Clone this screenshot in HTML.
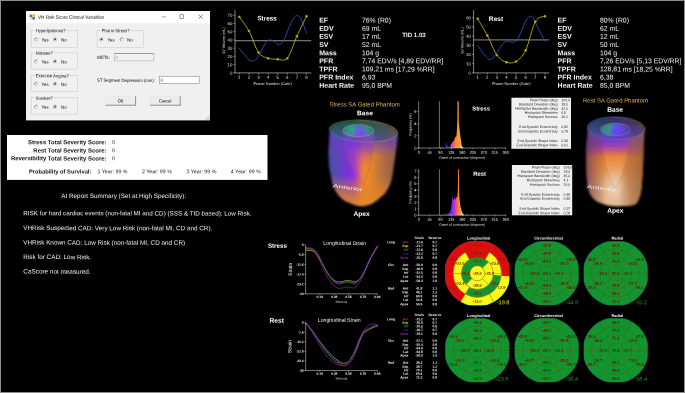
<!DOCTYPE html>
<html lang="en"><head><meta charset="utf-8"><title>VH Risk Score Clinical Variables</title>
<style>html,body{margin:0;padding:0;background:#000;overflow:hidden}svg{display:block;font-family:"Liberation Sans",sans-serif}text{white-space:pre;text-rendering:geometricPrecision}</style></head>
<body>
<svg width="685" height="393" viewBox="0 0 685 393">
<defs>
<filter id="hb" x="-10%" y="-10%" width="120%" height="120%"><feGaussianBlur stdDeviation="0.8"/></filter>
<filter id="hb1" x="-10%" y="-10%" width="120%" height="120%"><feGaussianBlur stdDeviation="0.45"/></filter>
<linearGradient id="sH" gradientUnits="userSpaceOnUse" x1="328" y1="0" x2="398" y2="0"><stop offset="0" stop-color="#4a48a0"/><stop offset="0.12" stop-color="#5a4ab4"/><stop offset="0.26" stop-color="#7434d0"/><stop offset="0.36" stop-color="#8a30dc"/><stop offset="0.42" stop-color="#b848a8"/><stop offset="0.48" stop-color="#ea8430"/><stop offset="0.58" stop-color="#ee8a28"/><stop offset="0.68" stop-color="#d07c36"/><stop offset="0.8" stop-color="#ae6c46"/><stop offset="1" stop-color="#8a5a4a"/></linearGradient>
<linearGradient id="sTop" gradientUnits="userSpaceOnUse" x1="0" y1="138" x2="0" y2="156"><stop offset="0" stop-color="#5c44c0" stop-opacity="0.85"/><stop offset="0.5" stop-color="#6a3cc4" stop-opacity="0.45"/><stop offset="1" stop-color="#7a38c0" stop-opacity="0.0"/></linearGradient>
<linearGradient id="sBot" gradientUnits="userSpaceOnUse" x1="0" y1="176" x2="0" y2="204"><stop offset="0" stop-color="#e08428" stop-opacity="0.0"/><stop offset="0.5" stop-color="#e08428" stop-opacity="0.6"/><stop offset="1" stop-color="#e08a2a" stop-opacity="0.95"/></linearGradient>
<linearGradient id="sCup" gradientUnits="userSpaceOnUse" x1="329" y1="0" x2="398" y2="0"><stop offset="0" stop-color="#24585c"/><stop offset="0.3" stop-color="#1f5650"/><stop offset="0.6" stop-color="#2c5a50"/><stop offset="0.85" stop-color="#4a5448"/><stop offset="1" stop-color="#6a5a40"/></linearGradient>
<linearGradient id="sFront" gradientUnits="userSpaceOnUse" x1="0" y1="126" x2="0" y2="143"><stop offset="0" stop-color="#5a50b0" stop-opacity="0.0"/><stop offset="0.45" stop-color="#5a4cb4" stop-opacity="0.35"/><stop offset="1" stop-color="#5e48b8" stop-opacity="0.9"/></linearGradient>
<linearGradient id="sCylH" gradientUnits="userSpaceOnUse" x1="343" y1="0" x2="374" y2="0"><stop offset="0" stop-color="#6a40d0"/><stop offset="0.25" stop-color="#8a30e0"/><stop offset="0.5" stop-color="#c850a0"/><stop offset="0.68" stop-color="#f08a28"/><stop offset="1" stop-color="#d87a30"/></linearGradient>
<linearGradient id="sCylV" gradientUnits="userSpaceOnUse" x1="0" y1="130" x2="0" y2="185"><stop offset="0" stop-color="#5a48d0" stop-opacity="0.9"/><stop offset="0.3" stop-color="#7a38d8" stop-opacity="0.7"/><stop offset="0.55" stop-color="#c05090" stop-opacity="0.25"/><stop offset="0.75" stop-color="#f08a28" stop-opacity="0.0"/><stop offset="1" stop-color="#f09030" stop-opacity="0.0"/></linearGradient>
<linearGradient id="sCylTop" gradientUnits="userSpaceOnUse" x1="343" y1="0" x2="374" y2="0"><stop offset="0" stop-color="#2a8a80"/><stop offset="0.3" stop-color="#34a090"/><stop offset="0.55" stop-color="#5a60e0"/><stop offset="0.75" stop-color="#3a9088"/><stop offset="1" stop-color="#2a7a70"/></linearGradient>
<linearGradient id="sRimS" gradientUnits="userSpaceOnUse" x1="329" y1="0" x2="398" y2="0"><stop offset="0" stop-color="#4a8a90"/><stop offset="0.4" stop-color="#7a8a60"/><stop offset="0.7" stop-color="#a88a58"/><stop offset="1" stop-color="#d8924c"/></linearGradient>
<linearGradient id="rBody" gradientUnits="userSpaceOnUse" x1="0" y1="136" x2="0" y2="206"><stop offset="0" stop-color="#6444c0"/><stop offset="0.12" stop-color="#8038bc"/><stop offset="0.22" stop-color="#b85088"/><stop offset="0.31" stop-color="#e6823a"/><stop offset="0.48" stop-color="#e48e46"/><stop offset="0.68" stop-color="#dca470"/><stop offset="0.85" stop-color="#deb088"/><stop offset="1" stop-color="#e2ba94"/></linearGradient>
<linearGradient id="rSide" gradientUnits="userSpaceOnUse" x1="586" y1="0" x2="646" y2="0"><stop offset="0" stop-color="#5a3060" stop-opacity="0.7"/><stop offset="0.14" stop-color="#7a4048" stop-opacity="0.45"/><stop offset="0.34" stop-color="#804030" stop-opacity="0.0"/><stop offset="0.55" stop-color="#905030" stop-opacity="0.0"/><stop offset="0.78" stop-color="#a06438" stop-opacity="0.6"/><stop offset="1" stop-color="#8e5a36" stop-opacity="0.85"/></linearGradient>
<radialGradient id="rCore" gradientUnits="userSpaceOnUse" cx="614" cy="190" r="24" gradientTransform="translate(614 190) scale(0.8 1.0) translate(-614 -190)"><stop offset="0" stop-color="#efd4b8" stop-opacity="0.95"/><stop offset="0.5" stop-color="#e8c29c" stop-opacity="0.6"/><stop offset="1" stop-color="#e0b088" stop-opacity="0"/></radialGradient>
<linearGradient id="rCup" gradientUnits="userSpaceOnUse" x1="587" y1="0" x2="646" y2="0"><stop offset="0" stop-color="#2a4a70"/><stop offset="0.3" stop-color="#2c3868"/><stop offset="0.6" stop-color="#3a3070"/><stop offset="0.85" stop-color="#4a3860"/><stop offset="1" stop-color="#5a4850"/></linearGradient>
<linearGradient id="rFront" gradientUnits="userSpaceOnUse" x1="0" y1="123" x2="0" y2="140"><stop offset="0" stop-color="#5a50b0" stop-opacity="0.0"/><stop offset="0.45" stop-color="#5a4cb4" stop-opacity="0.35"/><stop offset="1" stop-color="#5e48b8" stop-opacity="0.9"/></linearGradient>
<linearGradient id="rCyl" gradientUnits="userSpaceOnUse" x1="0" y1="126" x2="0" y2="189"><stop offset="0" stop-color="#4a50d0"/><stop offset="0.2" stop-color="#6a3cdc"/><stop offset="0.33" stop-color="#b048b0"/><stop offset="0.45" stop-color="#ee8434"/><stop offset="0.6" stop-color="#eea060"/><stop offset="0.8" stop-color="#e8c098"/><stop offset="1" stop-color="#f0d8c0"/></linearGradient>
<linearGradient id="rCylTop" gradientUnits="userSpaceOnUse" x1="601" y1="0" x2="630" y2="0"><stop offset="0" stop-color="#2a8a80"/><stop offset="0.3" stop-color="#34988c"/><stop offset="0.55" stop-color="#5a50f0"/><stop offset="0.8" stop-color="#5a48c0"/><stop offset="1" stop-color="#4a4090"/></linearGradient>
<linearGradient id="rRimS" gradientUnits="userSpaceOnUse" x1="587" y1="0" x2="646" y2="0"><stop offset="0" stop-color="#4a78a8"/><stop offset="0.4" stop-color="#6a70a0"/><stop offset="0.7" stop-color="#a07a70"/><stop offset="1" stop-color="#c8844c"/></linearGradient>
<linearGradient id="hgS" gradientUnits="userSpaceOnUse" x1="433.2" y1="0" x2="464.6" y2="0"><stop offset="0.000" stop-color="#10a090"/><stop offset="0.192" stop-color="#1080a0"/><stop offset="0.308" stop-color="#3040e0"/><stop offset="0.408" stop-color="#7a22e6"/><stop offset="0.538" stop-color="#b030d8"/><stop offset="0.631" stop-color="#e04aa0"/><stop offset="0.692" stop-color="#f87848"/><stop offset="0.738" stop-color="#ff8c28"/><stop offset="0.862" stop-color="#ffa030"/><stop offset="0.923" stop-color="#ffd8a8"/><stop offset="0.969" stop-color="#ffffff"/></linearGradient>
<linearGradient id="hgR" gradientUnits="userSpaceOnUse" x1="433.2" y1="0" x2="464.6" y2="0"><stop offset="0.000" stop-color="#10a090"/><stop offset="0.269" stop-color="#1080a0"/><stop offset="0.400" stop-color="#3040e0"/><stop offset="0.500" stop-color="#6a28e8"/><stop offset="0.615" stop-color="#8a2ae6"/><stop offset="0.692" stop-color="#c838c8"/><stop offset="0.746" stop-color="#ee5a70"/><stop offset="0.792" stop-color="#ff7a30"/><stop offset="0.862" stop-color="#ffa030"/><stop offset="0.938" stop-color="#ffd8a8"/><stop offset="1.000" stop-color="#ffffff"/></linearGradient>
<clipPath id="bc477_273"><rect x="445.25" y="241.25" width="64.1" height="64.1"/></clipPath>
<clipPath id="bc546_273"><rect x="514.65" y="241.25" width="64.1" height="64.1"/></clipPath>
<clipPath id="bc615_273"><rect x="583.65" y="241.25" width="64.1" height="64.1"/></clipPath>
<clipPath id="bc477_350"><rect x="445.25" y="318.25" width="64.1" height="64.1"/></clipPath>
<clipPath id="bc546_350"><rect x="514.65" y="318.25" width="64.1" height="64.1"/></clipPath>
<clipPath id="bc615_350"><rect x="583.65" y="318.25" width="64.1" height="64.1"/></clipPath>
</defs>
<g>
<rect x="0.00" y="0.00" width="685.00" height="393.00" fill="#000"/>
<rect x="0.50" y="0.50" width="684.00" height="392.00" fill="none" stroke="#8c8c8c" stroke-width="1"/>
<g id="dialog">
<rect x="26.00" y="11.00" width="184.00" height="109.40" fill="#f0f0f0"/>
<rect x="26.00" y="11.00" width="184.00" height="12.20" fill="#ffffff"/>
<rect x="29.60" y="14.60" width="2.60" height="2.40" fill="#d8402c"/>
<rect x="32.30" y="14.20" width="2.80" height="2.60" fill="#f2c21a"/>
<rect x="29.80" y="17.10" width="2.40" height="2.30" fill="#c8c8d0"/>
<rect x="32.30" y="17.00" width="2.60" height="2.50" fill="#2f78d0"/>
<text x="38.00" y="18.66" transform="rotate(0.06 38.0 18.7)" font-size="4.9" textLength="66.00" lengthAdjust="spacingAndGlyphs" fill="#000">VH Risk Score Clinical Variables</text>
<line x1="161.60" y1="16.90" x2="166.00" y2="16.90" stroke="#444" stroke-width="0.5"/>
<rect x="180.00" y="14.80" width="3.60" height="3.60" fill="none" stroke="#333" stroke-width="0.5"/>
<line x1="198.60" y1="14.70" x2="202.60" y2="18.70" stroke="#222" stroke-width="0.55"/>
<line x1="202.60" y1="14.70" x2="198.60" y2="18.70" stroke="#222" stroke-width="0.55"/>
<rect x="31.20" y="30.30" width="46.40" height="17.00" fill="none" stroke="#c4c4c4" stroke-width="0.5"/>
<rect x="34.90" y="29.30" width="31.40" height="2.00" fill="#f0f0f0"/>
<text x="35.70" y="32.26" transform="rotate(0.06 35.7 32.3)" font-size="4.6" textLength="29.80" lengthAdjust="spacingAndGlyphs" fill="#111">Hyperlipidemia?</text>
<circle cx="36.20" cy="39.60" r="1.60" fill="#fff" stroke="#a8a8a8" stroke-width="0.45"/>
<path d="M35.07,40.73 A1.6,1.6 0 0 1 37.33,38.47" fill="none" stroke="#4a4a4a" stroke-width="0.5"/>
<circle cx="55.20" cy="39.60" r="1.60" fill="#fff" stroke="#a8a8a8" stroke-width="0.45"/>
<path d="M54.07,40.73 A1.6,1.6 0 0 1 56.33,38.47" fill="none" stroke="#4a4a4a" stroke-width="0.5"/>
<circle cx="55.20" cy="39.60" r="0.75" fill="#111"/>
<text x="41.60" y="41.46" transform="rotate(0.06 41.6 41.5)" font-size="4.6" textLength="6.90" lengthAdjust="spacingAndGlyphs" fill="#111">Yes</text>
<text x="60.90" y="41.46" transform="rotate(0.06 60.9 41.5)" font-size="4.6" textLength="5.80" lengthAdjust="spacingAndGlyphs" fill="#111">No</text>
<rect x="31.20" y="52.90" width="46.40" height="16.20" fill="none" stroke="#c4c4c4" stroke-width="0.5"/>
<rect x="34.90" y="51.90" width="18.40" height="2.00" fill="#f0f0f0"/>
<text x="35.70" y="54.76" transform="rotate(0.06 35.7 54.8)" font-size="4.6" textLength="16.80" lengthAdjust="spacingAndGlyphs" fill="#111">Nitrates?</text>
<circle cx="36.20" cy="61.60" r="1.60" fill="#fff" stroke="#a8a8a8" stroke-width="0.45"/>
<path d="M35.07,62.73 A1.6,1.6 0 0 1 37.33,60.47" fill="none" stroke="#4a4a4a" stroke-width="0.5"/>
<circle cx="55.20" cy="61.60" r="1.60" fill="#fff" stroke="#a8a8a8" stroke-width="0.45"/>
<path d="M54.07,62.73 A1.6,1.6 0 0 1 56.33,60.47" fill="none" stroke="#4a4a4a" stroke-width="0.5"/>
<circle cx="55.20" cy="61.60" r="0.75" fill="#111"/>
<text x="41.60" y="63.46" transform="rotate(0.06 41.6 63.5)" font-size="4.6" textLength="6.90" lengthAdjust="spacingAndGlyphs" fill="#111">Yes</text>
<text x="60.90" y="63.46" transform="rotate(0.06 60.9 63.5)" font-size="4.6" textLength="5.80" lengthAdjust="spacingAndGlyphs" fill="#111">No</text>
<rect x="31.20" y="75.30" width="46.40" height="16.10" fill="none" stroke="#c4c4c4" stroke-width="0.5"/>
<rect x="34.90" y="74.30" width="34.70" height="2.00" fill="#f0f0f0"/>
<text x="35.70" y="77.36" transform="rotate(0.06 35.7 77.4)" font-size="4.6" textLength="33.10" lengthAdjust="spacingAndGlyphs" fill="#111">Exercise Angina?</text>
<circle cx="36.20" cy="84.10" r="1.60" fill="#fff" stroke="#a8a8a8" stroke-width="0.45"/>
<path d="M35.07,85.23 A1.6,1.6 0 0 1 37.33,82.97" fill="none" stroke="#4a4a4a" stroke-width="0.5"/>
<circle cx="55.20" cy="84.10" r="1.60" fill="#fff" stroke="#a8a8a8" stroke-width="0.45"/>
<path d="M54.07,85.23 A1.6,1.6 0 0 1 56.33,82.97" fill="none" stroke="#4a4a4a" stroke-width="0.5"/>
<circle cx="55.20" cy="84.10" r="0.75" fill="#111"/>
<text x="41.60" y="85.96" transform="rotate(0.06 41.6 86.0)" font-size="4.6" textLength="6.90" lengthAdjust="spacingAndGlyphs" fill="#111">Yes</text>
<text x="60.90" y="85.96" transform="rotate(0.06 60.9 86.0)" font-size="4.6" textLength="5.80" lengthAdjust="spacingAndGlyphs" fill="#111">No</text>
<rect x="31.20" y="97.80" width="46.40" height="16.40" fill="none" stroke="#c4c4c4" stroke-width="0.5"/>
<rect x="34.90" y="96.80" width="18.50" height="2.00" fill="#f0f0f0"/>
<text x="35.70" y="99.66" transform="rotate(0.06 35.7 99.7)" font-size="4.6" textLength="16.90" lengthAdjust="spacingAndGlyphs" fill="#111">Smoker?</text>
<circle cx="36.20" cy="106.90" r="1.60" fill="#fff" stroke="#a8a8a8" stroke-width="0.45"/>
<path d="M35.07,108.03 A1.6,1.6 0 0 1 37.33,105.77" fill="none" stroke="#4a4a4a" stroke-width="0.5"/>
<circle cx="55.20" cy="106.90" r="1.60" fill="#fff" stroke="#a8a8a8" stroke-width="0.45"/>
<path d="M54.07,108.03 A1.6,1.6 0 0 1 56.33,105.77" fill="none" stroke="#4a4a4a" stroke-width="0.5"/>
<circle cx="55.20" cy="106.90" r="0.75" fill="#111"/>
<text x="41.60" y="108.76" transform="rotate(0.06 41.6 108.8)" font-size="4.6" textLength="6.90" lengthAdjust="spacingAndGlyphs" fill="#111">Yes</text>
<text x="60.90" y="108.76" transform="rotate(0.06 60.9 108.8)" font-size="4.6" textLength="5.80" lengthAdjust="spacingAndGlyphs" fill="#111">No</text>
<rect x="97.10" y="30.30" width="46.60" height="17.00" fill="none" stroke="#c4c4c4" stroke-width="0.5"/>
<rect x="101.00" y="29.30" width="29.30" height="2.00" fill="#f0f0f0"/>
<text x="101.80" y="32.26" transform="rotate(0.06 101.8 32.3)" font-size="4.6" textLength="27.70" lengthAdjust="spacingAndGlyphs" fill="#111">Pharm Stress?</text>
<circle cx="101.60" cy="39.60" r="1.60" fill="#fff" stroke="#a8a8a8" stroke-width="0.45"/>
<path d="M100.47,40.73 A1.6,1.6 0 0 1 102.73,38.47" fill="none" stroke="#4a4a4a" stroke-width="0.5"/>
<circle cx="101.60" cy="39.60" r="0.75" fill="#111"/>
<circle cx="121.80" cy="39.60" r="1.60" fill="#fff" stroke="#a8a8a8" stroke-width="0.45"/>
<path d="M120.67,40.73 A1.6,1.6 0 0 1 122.93,38.47" fill="none" stroke="#4a4a4a" stroke-width="0.5"/>
<text x="107.60" y="41.46" transform="rotate(0.06 107.6 41.5)" font-size="4.6" textLength="6.90" lengthAdjust="spacingAndGlyphs" fill="#111">Yes</text>
<text x="127.10" y="41.46" transform="rotate(0.06 127.1 41.5)" font-size="4.6" textLength="5.80" lengthAdjust="spacingAndGlyphs" fill="#111">No</text>
<text x="97.10" y="58.96" transform="rotate(0.06 97.1 59.0)" font-size="4.6" textLength="12.80" lengthAdjust="spacingAndGlyphs" fill="#111">METs:</text>
<rect x="114.30" y="53.50" width="39.60" height="7.40" fill="#f0f0f0" stroke="#a6a6a6" stroke-width="0.5"/>
<line x1="114.30" y1="53.50" x2="153.90" y2="53.50" stroke="#808080" stroke-width="0.6"/>
<text x="115.60" y="58.95" transform="rotate(0.06 115.6 58.9)" font-size="4.3" fill="#8a8a8a">0</text>
<text x="97.10" y="81.86" transform="rotate(0.06 97.1 81.9)" font-size="4.6" textLength="57.80" lengthAdjust="spacingAndGlyphs" fill="#111">ST Segment Depression (mm):</text>
<rect x="159.30" y="76.40" width="39.90" height="6.90" fill="#ffffff" stroke="#7a7a7a" stroke-width="0.5"/>
<text x="160.60" y="81.55" transform="rotate(0.06 160.6 81.5)" font-size="4.3" fill="#222">0</text>
<rect x="105.70" y="96.30" width="29.90" height="8.90" fill="#ececec" stroke="#e0e0e0" stroke-width="0.4"/>
<line x1="105.70" y1="105.20" x2="135.60" y2="105.20" stroke="#6a6a6a" stroke-width="0.7"/>
<line x1="135.60" y1="96.30" x2="135.60" y2="105.50" stroke="#6a6a6a" stroke-width="0.7"/>
<text x="120.65" y="102.51" transform="rotate(0.06 120.7 102.5)" font-size="4.6" text-anchor="middle" textLength="5.98" lengthAdjust="spacingAndGlyphs" fill="#111">OK</text>
<rect x="150.00" y="96.30" width="30.20" height="8.90" fill="#ececec" stroke="#e0e0e0" stroke-width="0.4"/>
<line x1="150.00" y1="105.20" x2="180.20" y2="105.20" stroke="#6a6a6a" stroke-width="0.7"/>
<line x1="180.20" y1="96.30" x2="180.20" y2="105.50" stroke="#6a6a6a" stroke-width="0.7"/>
<text x="165.10" y="102.51" transform="rotate(0.06 165.1 102.5)" font-size="4.6" text-anchor="middle" textLength="12.89" lengthAdjust="spacingAndGlyphs" fill="#111">Cancel</text>
<line x1="208.20" y1="119.90" x2="209.60" y2="118.50" stroke="#a4a4a4" stroke-width="0.55"/>
<line x1="206.70" y1="119.90" x2="209.60" y2="117.00" stroke="#a4a4a4" stroke-width="0.55"/>
<line x1="205.20" y1="119.90" x2="209.60" y2="115.50" stroke="#a4a4a4" stroke-width="0.55"/>
</g>
<g id="scores">
<rect x="7.00" y="135.00" width="260.50" height="44.90" fill="#ffffff"/>
<text x="106.50" y="144.34" transform="rotate(0.06 106.5 144.3)" font-size="5.94" text-anchor="end" font-weight="bold" fill="#111">Stress Total Severity Score:</text>
<text x="106.50" y="152.54" transform="rotate(0.06 106.5 152.5)" font-size="5.95" text-anchor="end" font-weight="bold" fill="#111">Rest Total Severity Score:</text>
<text x="106.50" y="160.44" transform="rotate(0.06 106.5 160.4)" font-size="5.95" text-anchor="end" font-weight="bold" fill="#111">Reversibility Total Severity Score:</text>
<text x="112.00" y="144.11" transform="rotate(0.06 112.0 144.1)" font-size="5.3" fill="#222">0</text>
<text x="112.00" y="152.31" transform="rotate(0.06 112.0 152.3)" font-size="5.3" fill="#222">0</text>
<text x="112.00" y="160.21" transform="rotate(0.06 112.0 160.2)" font-size="5.3" fill="#222">0</text>
<text x="28.90" y="173.47" transform="rotate(0.06 28.9 173.5)" font-size="5.74" font-weight="bold" fill="#111">Probability of Survival:</text>
<text x="97.50" y="173.31" transform="rotate(0.06 97.5 173.3)" font-size="5.3" textLength="30.00" lengthAdjust="spacingAndGlyphs" fill="#222">1 Year: 99 %</text>
<text x="141.90" y="173.31" transform="rotate(0.06 141.9 173.3)" font-size="5.3" textLength="30.00" lengthAdjust="spacingAndGlyphs" fill="#222">2 Year: 99 %</text>
<text x="186.40" y="173.31" transform="rotate(0.06 186.4 173.3)" font-size="5.3" textLength="30.00" lengthAdjust="spacingAndGlyphs" fill="#222">3 Year: 99 %</text>
<text x="230.80" y="173.31" transform="rotate(0.06 230.8 173.3)" font-size="5.3" textLength="30.00" lengthAdjust="spacingAndGlyphs" fill="#222">4 Year: 99 %</text>
</g>
<g id="report">
<text x="61.30" y="197.88" transform="rotate(0.06 61.3 197.9)" font-size="6.33" fill="#ececec">AI Report Summary (Set at High Specificity):</text>
<text x="23.30" y="215.26" transform="rotate(0.06 23.3 215.3)" font-size="6.29" fill="#ececec">RISK for hard cardiac events (non-fatal MI and CD) (SSS &amp; TID based): Low Risk.</text>
<text x="23.30" y="230.09" transform="rotate(0.06 23.3 230.1)" font-size="6.35" fill="#ececec">VHRisk Suspected CAD: Very Low Risk (non-fatal MI, CD and CR).</text>
<text x="23.30" y="244.58" transform="rotate(0.06 23.3 244.6)" font-size="6.34" fill="#ececec">VHRisk Known CAD: Low Risk (non-fatal MI, CD and CR)</text>
<text x="23.30" y="259.09" transform="rotate(0.06 23.3 259.1)" font-size="6.36" fill="#ececec">Risk for CAD: Low Risk.</text>
<text x="23.30" y="273.60" transform="rotate(0.06 23.3 273.6)" font-size="6.38" fill="#ececec">CaScore not measured.</text>
</g>
<g id="stress-lv">
<line x1="235.00" y1="40.60" x2="311.30" y2="40.60" stroke="#727272" stroke-width="1.15"/>
<path d="M239.30,48.30 C240.12,49.30 242.58,52.37 244.20,54.30 C245.82,56.23 247.60,58.77 249.00,59.90 C250.40,61.03 251.40,61.22 252.60,61.10 C253.80,60.98 254.78,60.85 256.20,59.20 C257.62,57.55 259.48,54.02 261.10,51.20 C262.72,48.38 264.50,44.18 265.90,42.30 C267.30,40.42 268.10,40.03 269.50,39.90 C270.90,39.77 272.68,40.75 274.30,41.50 C275.92,42.25 277.58,44.67 279.20,44.40 C280.82,44.13 282.40,42.67 284.00,39.90 C285.60,37.13 287.18,31.43 288.80,27.80 C290.42,24.17 292.28,20.12 293.70,18.10 C295.12,16.08 296.10,15.58 297.30,15.70 C298.50,15.82 299.37,15.90 300.90,18.80 C302.43,21.70 305.57,30.72 306.50,33.10" fill="none" stroke="#2b4fb8" stroke-width="0.9" stroke-linecap="round" stroke-linejoin="round"/>
<path d="M239.30,16.90 C240.90,19.23 245.70,24.98 248.90,30.90 C252.10,36.82 255.30,47.85 258.50,52.40 C261.70,56.95 264.90,57.07 268.10,58.20 C271.30,59.33 274.50,59.20 277.70,59.20 C280.90,59.20 284.10,62.03 287.30,58.20 C290.50,54.37 293.70,43.20 296.90,36.20 C300.10,29.20 304.90,19.53 306.50,16.20" fill="none" stroke="#bfb91a" stroke-width="0.85" stroke-linecap="round" stroke-linejoin="round"/>
<circle cx="239.30" cy="16.90" r="1.20" fill="#cfc820" stroke="#4a4606" stroke-width="0.4"/>
<circle cx="248.90" cy="30.90" r="1.20" fill="#cfc820" stroke="#4a4606" stroke-width="0.4"/>
<circle cx="258.50" cy="52.40" r="1.20" fill="#cfc820" stroke="#4a4606" stroke-width="0.4"/>
<circle cx="268.10" cy="58.20" r="1.20" fill="#cfc820" stroke="#4a4606" stroke-width="0.4"/>
<circle cx="277.70" cy="59.20" r="1.20" fill="#cfc820" stroke="#4a4606" stroke-width="0.4"/>
<circle cx="287.30" cy="58.20" r="1.20" fill="#cfc820" stroke="#4a4606" stroke-width="0.4"/>
<circle cx="296.90" cy="36.20" r="1.20" fill="#cfc820" stroke="#4a4606" stroke-width="0.4"/>
<circle cx="306.50" cy="16.20" r="1.20" fill="#cfc820" stroke="#4a4606" stroke-width="0.4"/>
<line x1="235.00" y1="10.00" x2="235.00" y2="73.20" stroke="#d8d8d8" stroke-width="0.6"/>
<line x1="234.70" y1="72.90" x2="311.30" y2="72.90" stroke="#d8d8d8" stroke-width="0.6"/>
<line x1="233.40" y1="72.90" x2="235.00" y2="72.90" stroke="#d8d8d8" stroke-width="0.5"/>
<text x="232.40" y="74.45" transform="rotate(0.06 232.4 74.4)" font-size="4.3" text-anchor="end" fill="#e0e0e0">0</text>
<line x1="233.40" y1="64.65" x2="235.00" y2="64.65" stroke="#d8d8d8" stroke-width="0.5"/>
<text x="232.40" y="66.20" transform="rotate(0.06 232.4 66.2)" font-size="4.3" text-anchor="end" fill="#e0e0e0">10</text>
<line x1="233.40" y1="56.40" x2="235.00" y2="56.40" stroke="#d8d8d8" stroke-width="0.5"/>
<text x="232.40" y="57.95" transform="rotate(0.06 232.4 57.9)" font-size="4.3" text-anchor="end" fill="#e0e0e0">20</text>
<line x1="233.40" y1="48.15" x2="235.00" y2="48.15" stroke="#d8d8d8" stroke-width="0.5"/>
<text x="232.40" y="49.70" transform="rotate(0.06 232.4 49.7)" font-size="4.3" text-anchor="end" fill="#e0e0e0">30</text>
<line x1="233.40" y1="39.90" x2="235.00" y2="39.90" stroke="#d8d8d8" stroke-width="0.5"/>
<text x="232.40" y="41.45" transform="rotate(0.06 232.4 41.4)" font-size="4.3" text-anchor="end" fill="#e0e0e0">40</text>
<line x1="233.40" y1="31.65" x2="235.00" y2="31.65" stroke="#d8d8d8" stroke-width="0.5"/>
<text x="232.40" y="33.20" transform="rotate(0.06 232.4 33.2)" font-size="4.3" text-anchor="end" fill="#e0e0e0">50</text>
<line x1="233.40" y1="23.40" x2="235.00" y2="23.40" stroke="#d8d8d8" stroke-width="0.5"/>
<text x="232.40" y="24.95" transform="rotate(0.06 232.4 24.9)" font-size="4.3" text-anchor="end" fill="#e0e0e0">60</text>
<line x1="233.40" y1="15.15" x2="235.00" y2="15.15" stroke="#d8d8d8" stroke-width="0.5"/>
<text x="232.40" y="16.70" transform="rotate(0.06 232.4 16.7)" font-size="4.3" text-anchor="end" fill="#e0e0e0">70</text>
<line x1="239.30" y1="72.90" x2="239.30" y2="74.50" stroke="#d8d8d8" stroke-width="0.5"/>
<text x="239.30" y="78.75" transform="rotate(0.06 239.3 78.7)" font-size="4.3" text-anchor="middle" fill="#e0e0e0">1</text>
<line x1="248.90" y1="72.90" x2="248.90" y2="74.50" stroke="#d8d8d8" stroke-width="0.5"/>
<text x="248.90" y="78.75" transform="rotate(0.06 248.9 78.7)" font-size="4.3" text-anchor="middle" fill="#e0e0e0">2</text>
<line x1="258.50" y1="72.90" x2="258.50" y2="74.50" stroke="#d8d8d8" stroke-width="0.5"/>
<text x="258.50" y="78.75" transform="rotate(0.06 258.5 78.7)" font-size="4.3" text-anchor="middle" fill="#e0e0e0">3</text>
<line x1="268.10" y1="72.90" x2="268.10" y2="74.50" stroke="#d8d8d8" stroke-width="0.5"/>
<text x="268.10" y="78.75" transform="rotate(0.06 268.1 78.7)" font-size="4.3" text-anchor="middle" fill="#e0e0e0">4</text>
<line x1="277.70" y1="72.90" x2="277.70" y2="74.50" stroke="#d8d8d8" stroke-width="0.5"/>
<text x="277.70" y="78.75" transform="rotate(0.06 277.7 78.7)" font-size="4.3" text-anchor="middle" fill="#e0e0e0">5</text>
<line x1="287.30" y1="72.90" x2="287.30" y2="74.50" stroke="#d8d8d8" stroke-width="0.5"/>
<text x="287.30" y="78.75" transform="rotate(0.06 287.3 78.7)" font-size="4.3" text-anchor="middle" fill="#e0e0e0">6</text>
<line x1="296.90" y1="72.90" x2="296.90" y2="74.50" stroke="#d8d8d8" stroke-width="0.5"/>
<text x="296.90" y="78.75" transform="rotate(0.06 296.9 78.7)" font-size="4.3" text-anchor="middle" fill="#e0e0e0">7</text>
<line x1="306.50" y1="72.90" x2="306.50" y2="74.50" stroke="#d8d8d8" stroke-width="0.5"/>
<text x="306.50" y="78.75" transform="rotate(0.06 306.5 78.7)" font-size="4.3" text-anchor="middle" fill="#e0e0e0">8</text>
<text x="272.70" y="85.10" transform="rotate(0.06 272.7 85.1)" font-size="3.9" text-anchor="middle" fill="#e0e0e0">Frame Number (Gate)</text>
<text transform="translate(223.60,40.45) rotate(-89.94)" font-size="3.7" text-anchor="middle" fill="#e0e0e0" y="1.3">LV Volume (mL)</text>
<text x="257.40" y="20.39" transform="rotate(0.06 257.4 20.4)" font-size="6.35" font-weight="bold" fill="#fff">Stress</text>
<text x="319.20" y="22.62" transform="rotate(0.06 319.2 22.6)" font-size="7.0" font-weight="bold" fill="#f2f2f2">EF</text>
<text x="362.00" y="22.57" transform="rotate(0.06 362.0 22.6)" font-size="6.85" fill="#f2f2f2">76% (R0)</text>
<text x="319.20" y="30.72" transform="rotate(0.06 319.2 30.7)" font-size="7.0" font-weight="bold" fill="#f2f2f2">EDV</text>
<text x="362.00" y="30.67" transform="rotate(0.06 362.0 30.7)" font-size="6.85" fill="#f2f2f2">69 mL</text>
<text x="319.20" y="38.82" transform="rotate(0.06 319.2 38.8)" font-size="7.0" font-weight="bold" fill="#f2f2f2">ESV</text>
<text x="362.00" y="38.77" transform="rotate(0.06 362.0 38.8)" font-size="6.85" fill="#f2f2f2">17 mL</text>
<text x="319.20" y="47.02" transform="rotate(0.06 319.2 47.0)" font-size="7.0" font-weight="bold" fill="#f2f2f2">SV</text>
<text x="362.00" y="46.97" transform="rotate(0.06 362.0 47.0)" font-size="6.85" fill="#f2f2f2">52 mL</text>
<text x="319.20" y="55.22" transform="rotate(0.06 319.2 55.2)" font-size="7.0" font-weight="bold" fill="#f2f2f2">Mass</text>
<text x="362.00" y="55.17" transform="rotate(0.06 362.0 55.2)" font-size="6.85" fill="#f2f2f2">104 g</text>
<text x="319.20" y="63.32" transform="rotate(0.06 319.2 63.3)" font-size="7.0" font-weight="bold" fill="#f2f2f2">PFR</text>
<text x="362.00" y="63.27" transform="rotate(0.06 362.0 63.3)" font-size="6.85" fill="#f2f2f2">7,74 EDV/s [4,89 EDV/RR]</text>
<text x="319.20" y="71.42" transform="rotate(0.06 319.2 71.4)" font-size="7.0" font-weight="bold" fill="#f2f2f2">TPFR</text>
<text x="362.00" y="71.37" transform="rotate(0.06 362.0 71.4)" font-size="6.85" fill="#f2f2f2">109,21 ms [17,29 %RR]</text>
<text x="319.20" y="79.52" transform="rotate(0.06 319.2 79.5)" font-size="7.0" font-weight="bold" fill="#f2f2f2">PFR Index</text>
<text x="362.00" y="79.47" transform="rotate(0.06 362.0 79.5)" font-size="6.85" fill="#f2f2f2">6,93</text>
<text x="319.20" y="87.72" transform="rotate(0.06 319.2 87.7)" font-size="7.0" font-weight="bold" fill="#f2f2f2">Heart Rate</text>
<text x="362.00" y="87.67" transform="rotate(0.06 362.0 87.7)" font-size="6.85" fill="#f2f2f2">95,0 BPM</text>
<text x="402.30" y="37.00" transform="rotate(0.06 402.3 37.0)" font-size="6.1" font-weight="bold" fill="#f2f2f2">TID 1.03</text>
</g>
<g id="rest-lv">
<line x1="473.60" y1="39.90" x2="549.20" y2="39.90" stroke="#727272" stroke-width="1.15"/>
<path d="M477.70,45.40 C478.42,46.42 480.53,49.48 482.00,51.50 C483.47,53.52 485.17,56.18 486.50,57.50 C487.83,58.82 488.75,59.48 490.00,59.40 C491.25,59.32 492.58,58.57 494.00,57.00 C495.42,55.43 497.00,52.23 498.50,50.00 C500.00,47.77 501.60,45.08 503.00,43.60 C504.40,42.12 505.73,41.47 506.90,41.10 C508.07,40.73 508.98,41.20 510.00,41.40 C511.02,41.60 511.83,42.53 513.00,42.30 C514.17,42.07 515.58,41.88 517.00,40.00 C518.42,38.12 520.03,34.20 521.50,31.00 C522.97,27.80 524.40,23.27 525.80,20.80 C527.20,18.33 528.62,16.57 529.90,16.20 C531.18,15.83 532.15,16.63 533.50,18.60 C534.85,20.57 536.10,24.25 538.00,28.00 C539.90,31.75 543.75,38.92 544.90,41.10" fill="none" stroke="#2b4fb8" stroke-width="0.9" stroke-linecap="round" stroke-linejoin="round"/>
<path d="M477.70,18.80 C479.30,21.58 484.10,29.45 487.30,35.50 C490.50,41.55 493.70,50.63 496.90,55.10 C500.10,59.57 503.30,61.25 506.50,62.30 C509.70,63.35 512.90,63.42 516.10,61.40 C519.30,59.38 522.50,56.82 525.70,50.20 C528.90,43.58 532.10,27.37 535.30,21.70 C538.50,16.03 543.30,17.12 544.90,16.20" fill="none" stroke="#bfb91a" stroke-width="0.85" stroke-linecap="round" stroke-linejoin="round"/>
<circle cx="477.70" cy="18.80" r="1.20" fill="#cfc820" stroke="#4a4606" stroke-width="0.4"/>
<circle cx="487.30" cy="35.50" r="1.20" fill="#cfc820" stroke="#4a4606" stroke-width="0.4"/>
<circle cx="496.90" cy="55.10" r="1.20" fill="#cfc820" stroke="#4a4606" stroke-width="0.4"/>
<circle cx="506.50" cy="62.30" r="1.20" fill="#cfc820" stroke="#4a4606" stroke-width="0.4"/>
<circle cx="516.10" cy="61.40" r="1.20" fill="#cfc820" stroke="#4a4606" stroke-width="0.4"/>
<circle cx="525.70" cy="50.20" r="1.20" fill="#cfc820" stroke="#4a4606" stroke-width="0.4"/>
<circle cx="535.30" cy="21.70" r="1.20" fill="#cfc820" stroke="#4a4606" stroke-width="0.4"/>
<circle cx="544.90" cy="16.20" r="1.20" fill="#cfc820" stroke="#4a4606" stroke-width="0.4"/>
<line x1="473.60" y1="10.00" x2="473.60" y2="73.20" stroke="#d8d8d8" stroke-width="0.6"/>
<line x1="473.30" y1="72.90" x2="549.20" y2="72.90" stroke="#d8d8d8" stroke-width="0.6"/>
<line x1="472.00" y1="72.90" x2="473.60" y2="72.90" stroke="#d8d8d8" stroke-width="0.5"/>
<text x="471.00" y="74.45" transform="rotate(0.06 471.0 74.4)" font-size="4.3" text-anchor="end" fill="#e0e0e0">0</text>
<line x1="472.00" y1="63.70" x2="473.60" y2="63.70" stroke="#d8d8d8" stroke-width="0.5"/>
<text x="471.00" y="65.25" transform="rotate(0.06 471.0 65.2)" font-size="4.3" text-anchor="end" fill="#e0e0e0">10</text>
<line x1="472.00" y1="54.50" x2="473.60" y2="54.50" stroke="#d8d8d8" stroke-width="0.5"/>
<text x="471.00" y="56.05" transform="rotate(0.06 471.0 56.0)" font-size="4.3" text-anchor="end" fill="#e0e0e0">20</text>
<line x1="472.00" y1="45.30" x2="473.60" y2="45.30" stroke="#d8d8d8" stroke-width="0.5"/>
<text x="471.00" y="46.85" transform="rotate(0.06 471.0 46.8)" font-size="4.3" text-anchor="end" fill="#e0e0e0">30</text>
<line x1="472.00" y1="36.10" x2="473.60" y2="36.10" stroke="#d8d8d8" stroke-width="0.5"/>
<text x="471.00" y="37.65" transform="rotate(0.06 471.0 37.6)" font-size="4.3" text-anchor="end" fill="#e0e0e0">40</text>
<line x1="472.00" y1="26.90" x2="473.60" y2="26.90" stroke="#d8d8d8" stroke-width="0.5"/>
<text x="471.00" y="28.45" transform="rotate(0.06 471.0 28.4)" font-size="4.3" text-anchor="end" fill="#e0e0e0">50</text>
<line x1="472.00" y1="17.70" x2="473.60" y2="17.70" stroke="#d8d8d8" stroke-width="0.5"/>
<text x="471.00" y="19.25" transform="rotate(0.06 471.0 19.2)" font-size="4.3" text-anchor="end" fill="#e0e0e0">60</text>
<line x1="477.70" y1="72.90" x2="477.70" y2="74.50" stroke="#d8d8d8" stroke-width="0.5"/>
<text x="477.70" y="78.75" transform="rotate(0.06 477.7 78.7)" font-size="4.3" text-anchor="middle" fill="#e0e0e0">1</text>
<line x1="487.30" y1="72.90" x2="487.30" y2="74.50" stroke="#d8d8d8" stroke-width="0.5"/>
<text x="487.30" y="78.75" transform="rotate(0.06 487.3 78.7)" font-size="4.3" text-anchor="middle" fill="#e0e0e0">2</text>
<line x1="496.90" y1="72.90" x2="496.90" y2="74.50" stroke="#d8d8d8" stroke-width="0.5"/>
<text x="496.90" y="78.75" transform="rotate(0.06 496.9 78.7)" font-size="4.3" text-anchor="middle" fill="#e0e0e0">3</text>
<line x1="506.50" y1="72.90" x2="506.50" y2="74.50" stroke="#d8d8d8" stroke-width="0.5"/>
<text x="506.50" y="78.75" transform="rotate(0.06 506.5 78.7)" font-size="4.3" text-anchor="middle" fill="#e0e0e0">4</text>
<line x1="516.10" y1="72.90" x2="516.10" y2="74.50" stroke="#d8d8d8" stroke-width="0.5"/>
<text x="516.10" y="78.75" transform="rotate(0.06 516.1 78.7)" font-size="4.3" text-anchor="middle" fill="#e0e0e0">5</text>
<line x1="525.70" y1="72.90" x2="525.70" y2="74.50" stroke="#d8d8d8" stroke-width="0.5"/>
<text x="525.70" y="78.75" transform="rotate(0.06 525.7 78.7)" font-size="4.3" text-anchor="middle" fill="#e0e0e0">6</text>
<line x1="535.30" y1="72.90" x2="535.30" y2="74.50" stroke="#d8d8d8" stroke-width="0.5"/>
<text x="535.30" y="78.75" transform="rotate(0.06 535.3 78.7)" font-size="4.3" text-anchor="middle" fill="#e0e0e0">7</text>
<line x1="544.90" y1="72.90" x2="544.90" y2="74.50" stroke="#d8d8d8" stroke-width="0.5"/>
<text x="544.90" y="78.75" transform="rotate(0.06 544.9 78.7)" font-size="4.3" text-anchor="middle" fill="#e0e0e0">8</text>
<text x="511.30" y="85.10" transform="rotate(0.06 511.3 85.1)" font-size="3.9" text-anchor="middle" fill="#e0e0e0">Frame Number (Gate)</text>
<text transform="translate(462.30,40.45) rotate(-89.94)" font-size="3.7" text-anchor="middle" fill="#e0e0e0" y="1.3">LV Volume (mL)</text>
<text x="488.80" y="21.01" transform="rotate(0.06 488.8 21.0)" font-size="6.69" font-weight="bold" fill="#fff">Rest</text>
<text x="557.60" y="22.62" transform="rotate(0.06 557.6 22.6)" font-size="7.0" font-weight="bold" fill="#f2f2f2">EF</text>
<text x="600.00" y="22.57" transform="rotate(0.06 600.0 22.6)" font-size="6.85" fill="#f2f2f2">80% (R0)</text>
<text x="557.60" y="30.72" transform="rotate(0.06 557.6 30.7)" font-size="7.0" font-weight="bold" fill="#f2f2f2">EDV</text>
<text x="600.00" y="30.67" transform="rotate(0.06 600.0 30.7)" font-size="6.85" fill="#f2f2f2">62 mL</text>
<text x="557.60" y="38.82" transform="rotate(0.06 557.6 38.8)" font-size="7.0" font-weight="bold" fill="#f2f2f2">ESV</text>
<text x="600.00" y="38.77" transform="rotate(0.06 600.0 38.8)" font-size="6.85" fill="#f2f2f2">12 mL</text>
<text x="557.60" y="47.02" transform="rotate(0.06 557.6 47.0)" font-size="7.0" font-weight="bold" fill="#f2f2f2">SV</text>
<text x="600.00" y="46.97" transform="rotate(0.06 600.0 47.0)" font-size="6.85" fill="#f2f2f2">50 mL</text>
<text x="557.60" y="55.22" transform="rotate(0.06 557.6 55.2)" font-size="7.0" font-weight="bold" fill="#f2f2f2">Mass</text>
<text x="600.00" y="55.17" transform="rotate(0.06 600.0 55.2)" font-size="6.85" fill="#f2f2f2">104 g</text>
<text x="557.60" y="63.32" transform="rotate(0.06 557.6 63.3)" font-size="7.0" font-weight="bold" fill="#f2f2f2">PFR</text>
<text x="600.00" y="63.27" transform="rotate(0.06 600.0 63.3)" font-size="6.85" fill="#f2f2f2">7,26 EDV/s [5,13 EDV/RR]</text>
<text x="557.60" y="71.42" transform="rotate(0.06 557.6 71.4)" font-size="7.0" font-weight="bold" fill="#f2f2f2">TPFR</text>
<text x="600.00" y="71.37" transform="rotate(0.06 600.0 71.4)" font-size="6.85" fill="#f2f2f2">128,81 ms [18,25 %RR]</text>
<text x="557.60" y="79.52" transform="rotate(0.06 557.6 79.5)" font-size="7.0" font-weight="bold" fill="#f2f2f2">PFR Index</text>
<text x="600.00" y="79.47" transform="rotate(0.06 600.0 79.5)" font-size="6.85" fill="#f2f2f2">6,38</text>
<text x="557.60" y="87.72" transform="rotate(0.06 557.6 87.7)" font-size="7.0" font-weight="bold" fill="#f2f2f2">Heart Rate</text>
<text x="600.00" y="87.67" transform="rotate(0.06 600.0 87.7)" font-size="6.85" fill="#f2f2f2">85,0 BPM</text>
</g>
<g id="stress-heart">
<g filter="url(#hb)">
<path d="M330,129.5 L328.4,152.4 C328.6,162 329.4,170 330.7,175.3 C331.5,180 332.3,183.5 333.5,186.8 C335,190.5 337,193.5 339.2,196 C342,199.5 345.5,201.5 349.5,202.8 C353,204.5 357,206 361,206.3 C364.5,206.2 368,205.2 371.3,204 C374,202.4 377,200.6 379.3,198.3 C382,196 384.5,194 386.2,191.4 C388,188.5 389.8,185.5 390.8,182.2 C392,178 393,173 393.5,168.5 L395.8,152.4 L397.7,136.3 C397,128 382,120.6 362,120.6 C345,120.8 331,124.5 330,129.5 Z" fill="url(#sH)"/>
<path d="M330,129.5 L328.4,152.4 C328.6,162 329.4,170 330.7,175.3 C331.5,180 332.3,183.5 333.5,186.8 C335,190.5 337,193.5 339.2,196 C342,199.5 345.5,201.5 349.5,202.8 C353,204.5 357,206 361,206.3 C364.5,206.2 368,205.2 371.3,204 C374,202.4 377,200.6 379.3,198.3 C382,196 384.5,194 386.2,191.4 C388,188.5 389.8,185.5 390.8,182.2 C392,178 393,173 393.5,168.5 L395.8,152.4 L397.7,136.3 C397,128 382,120.6 362,120.6 C345,120.8 331,124.5 330,129.5 Z" fill="url(#sTop)"/>
<path d="M330,129.5 L328.4,152.4 C328.6,162 329.4,170 330.7,175.3 C331.5,180 332.3,183.5 333.5,186.8 C335,190.5 337,193.5 339.2,196 C342,199.5 345.5,201.5 349.5,202.8 C353,204.5 357,206 361,206.3 C364.5,206.2 368,205.2 371.3,204 C374,202.4 377,200.6 379.3,198.3 C382,196 384.5,194 386.2,191.4 C388,188.5 389.8,185.5 390.8,182.2 C392,178 393,173 393.5,168.5 L395.8,152.4 L397.7,136.3 C397,128 382,120.6 362,120.6 C345,120.8 331,124.5 330,129.5 Z" fill="url(#sBot)"/>
<ellipse cx="363.5" cy="131.2" rx="34" ry="10.6" transform="rotate(3.5 363.5 131.2)" fill="url(#sCup)"/>
<ellipse cx="363.5" cy="131.2" rx="34" ry="10.6" transform="rotate(3.5 363.5 131.2)" fill="url(#sFront)"/>
<path d="M343,131 C343.5,150 350,172 362.7,184 C370,174 373.6,150 373.6,131 C370,137.5 347,138 343,131 Z" fill="url(#sCylH)" opacity="0.55"/>
<path d="M343,131 C343.5,150 350,172 362.7,184 C370,174 373.6,150 373.6,131 C370,137.5 347,138 343,131 Z" fill="url(#sCylV)"/>
<ellipse cx="358.3" cy="130.7" rx="15.3" ry="5.9" fill="url(#sCylTop)"/>
<ellipse cx="360" cy="133" rx="6.5" ry="3.2" fill="#7a4cf0" opacity="0.9"/>
</g>
<path d="M343,133 C343.5,150 350,172 362.7,184 C370,174 373.6,150 373.6,133" fill="none" stroke="#8a4a70" stroke-width="0.6" opacity="0.45" filter="url(#hb1)"/>
<ellipse cx="363.5" cy="131.2" rx="34" ry="10.6" transform="rotate(3.5 363.5 131.2)" fill="none" stroke="url(#sRimS)" stroke-width="0.8" opacity="0.75" filter="url(#hb1)"/>
<ellipse cx="358.3" cy="130.7" rx="15.3" ry="5.9" fill="none" stroke="#c0965a" stroke-width="0.7" opacity="0.75" filter="url(#hb1)"/>
<text x="329.60" y="106.47" transform="rotate(0.06 329.6 106.5)" font-size="6.03" fill="#e4b45c">Stress SA Gated Phantom</text>
<text x="365.00" y="115.28" transform="rotate(0.06 365.0 115.3)" font-size="6.6" text-anchor="middle" font-weight="bold" fill="#fff">Base</text>
<text x="361.50" y="215.98" transform="rotate(0.06 361.5 216.0)" font-size="6.6" text-anchor="middle" font-weight="bold" fill="#fff">Apex</text>
<text transform="translate(332.6,187.2) rotate(8) scale(1.72,1)" font-size="5" fill="#f0f0f0">Anterior</text>
</g>
<g id="rest-heart">
<g filter="url(#hb)">
<path d="M587.7,129.9 L586,149.2 L586.5,173.4 C586.8,179 587.3,184 588.1,187.9 C589,192 590.5,195 592.5,197.6 C595,200.5 598,202.5 602.2,203.6 C606,205.5 612,206.3 618,206.2 C624,206.2 630,206 634.8,204.8 C636.5,203.5 637.8,201.8 638.4,200 C640,197 640.8,193.5 641.3,190.3 L642.7,173.4 L643.7,149.2 L644.4,132.3 C644,123 630,117.2 615,117.3 C600,117.4 588.4,123 587.7,129.9 Z" fill="url(#rBody)"/>
<path d="M587.7,129.9 L586,149.2 L586.5,173.4 C586.8,179 587.3,184 588.1,187.9 C589,192 590.5,195 592.5,197.6 C595,200.5 598,202.5 602.2,203.6 C606,205.5 612,206.3 618,206.2 C624,206.2 630,206 634.8,204.8 C636.5,203.5 637.8,201.8 638.4,200 C640,197 640.8,193.5 641.3,190.3 L642.7,173.4 L643.7,149.2 L644.4,132.3 C644,123 630,117.2 615,117.3 C600,117.4 588.4,123 587.7,129.9 Z" fill="url(#rCore)"/>
<path d="M587.7,129.9 L586,149.2 L586.5,173.4 C586.8,179 587.3,184 588.1,187.9 C589,192 590.5,195 592.5,197.6 C595,200.5 598,202.5 602.2,203.6 C606,205.5 612,206.3 618,206.2 C624,206.2 630,206 634.8,204.8 C636.5,203.5 637.8,201.8 638.4,200 C640,197 640.8,193.5 641.3,190.3 L642.7,173.4 L643.7,149.2 L644.4,132.3 C644,123 630,117.2 615,117.3 C600,117.4 588.4,123 587.7,129.9 Z" fill="url(#rSide)"/>
<ellipse cx="616.2" cy="128.4" rx="28.6" ry="11" transform="rotate(2 616.2 128.4)" fill="url(#rCup)"/>
<ellipse cx="616.2" cy="128.4" rx="28.6" ry="11" transform="rotate(2 616.2 128.4)" fill="url(#rFront)"/>
<path d="M601,129.5 C601.2,148 606,176 615.5,188 C623,178 630,150 630.3,129.5 C627,136 604.5,136.5 601,129.5 Z" fill="url(#rCyl)" opacity="0.55"/>
<ellipse cx="615.6" cy="129.5" rx="14.6" ry="6.1" fill="url(#rCylTop)"/>
<ellipse cx="616" cy="131.5" rx="6" ry="3.2" fill="#6a40f4" opacity="0.9"/>
</g>
<path d="M601,132 C601.2,148 606,176 615.5,188 C623,178 630,150 630.3,132" fill="none" stroke="#a05030" stroke-width="0.6" opacity="0.3" filter="url(#hb1)"/>
<ellipse cx="616.2" cy="128.4" rx="28.6" ry="11" transform="rotate(2 616.2 128.4)" fill="none" stroke="url(#rRimS)" stroke-width="0.8" opacity="0.7" filter="url(#hb1)"/>
<ellipse cx="615.6" cy="129.5" rx="14.6" ry="6.1" fill="none" stroke="#a07a78" stroke-width="0.7" opacity="0.75" filter="url(#hb1)"/>
<text x="583.00" y="102.55" transform="rotate(0.06 583.0 102.6)" font-size="5.98" fill="#e4b45c">Rest SA Gated Phantom</text>
<text x="615.10" y="111.68" transform="rotate(0.06 615.1 111.7)" font-size="6.6" text-anchor="middle" font-weight="bold" fill="#fff">Base</text>
<text x="615.40" y="212.68" transform="rotate(0.06 615.4 212.7)" font-size="6.6" text-anchor="middle" font-weight="bold" fill="#fff">Apex</text>
<text transform="translate(586.6,188.0) rotate(7.5) scale(1.72,1)" font-size="5" fill="#f0f0f0">Anterior</text>
</g>
<g id="hist-stress">
<line x1="439.40" y1="101.20" x2="439.40" y2="148.00" stroke="#8c8c8c" stroke-width="0.8"/>
<line x1="458.00" y1="101.20" x2="458.00" y2="148.00" stroke="#f08a28" stroke-width="0.9"/>
<polygon points="449.49,148.03 450.38,146.61 450.92,144.12 451.81,143.41 452.70,141.63 453.76,140.92 454.47,139.14 455.36,137.00 456.43,136.29 456.79,131.48 457.14,125.61 457.59,121.70 457.79,101.41 458.46,101.41 458.66,121.70 459.10,125.61 459.64,130.24 460.17,135.04 460.70,138.42 461.59,145.54 462.66,147.14 463.73,148.03" fill="url(#hgS)"/>
<line x1="435.12" y1="148.00" x2="435.12" y2="147.50" stroke="#10a090" stroke-width="0.7"/>
<line x1="436.81" y1="148.00" x2="436.81" y2="147.30" stroke="#10a090" stroke-width="0.7"/>
<line x1="441.64" y1="148.00" x2="441.64" y2="147.20" stroke="#2060d0" stroke-width="0.7"/>
<line x1="443.09" y1="148.00" x2="443.09" y2="146.60" stroke="#3040e0" stroke-width="0.7"/>
<line x1="446.30" y1="148.00" x2="446.30" y2="143.20" stroke="#7a22e6" stroke-width="0.7"/>
<line x1="447.30" y1="148.00" x2="447.30" y2="145.50" stroke="#8a22e6" stroke-width="0.7"/>
<line x1="449.00" y1="148.00" x2="449.00" y2="146.50" stroke="#a030e0" stroke-width="0.7"/>
<line x1="418.70" y1="101.20" x2="418.70" y2="148.30" stroke="#d4d4d4" stroke-width="0.55"/>
<line x1="418.40" y1="148.00" x2="506.20" y2="148.00" stroke="#d4d4d4" stroke-width="0.55"/>
<line x1="417.30" y1="148.00" x2="418.70" y2="148.00" stroke="#d4d4d4" stroke-width="0.5"/>
<text x="416.60" y="149.44" transform="rotate(0.06 416.6 149.4)" font-size="4.0" text-anchor="end" fill="#ececec">0</text>
<line x1="417.30" y1="135.80" x2="418.70" y2="135.80" stroke="#d4d4d4" stroke-width="0.5"/>
<text x="416.60" y="137.24" transform="rotate(0.06 416.6 137.2)" font-size="4.0" text-anchor="end" fill="#ececec">2</text>
<line x1="417.30" y1="123.60" x2="418.70" y2="123.60" stroke="#d4d4d4" stroke-width="0.5"/>
<text x="416.60" y="125.04" transform="rotate(0.06 416.6 125.0)" font-size="4.0" text-anchor="end" fill="#ececec">4</text>
<line x1="417.30" y1="111.40" x2="418.70" y2="111.40" stroke="#d4d4d4" stroke-width="0.5"/>
<text x="416.60" y="112.84" transform="rotate(0.06 416.6 112.8)" font-size="4.0" text-anchor="end" fill="#ececec">6</text>
<line x1="418.70" y1="148.00" x2="418.70" y2="149.30" stroke="#d4d4d4" stroke-width="0.5"/>
<text x="418.70" y="153.77" transform="rotate(0.06 418.7 153.8)" font-size="3.8" text-anchor="middle" fill="#ececec">0</text>
<line x1="429.57" y1="148.00" x2="429.57" y2="149.30" stroke="#d4d4d4" stroke-width="0.5"/>
<text x="429.57" y="153.77" transform="rotate(0.06 429.6 153.8)" font-size="3.8" text-anchor="middle" fill="#ececec">45</text>
<line x1="440.44" y1="148.00" x2="440.44" y2="149.30" stroke="#d4d4d4" stroke-width="0.5"/>
<text x="440.44" y="153.77" transform="rotate(0.06 440.4 153.8)" font-size="3.8" text-anchor="middle" fill="#ececec">90</text>
<line x1="451.30" y1="148.00" x2="451.30" y2="149.30" stroke="#d4d4d4" stroke-width="0.5"/>
<text x="451.30" y="153.77" transform="rotate(0.06 451.3 153.8)" font-size="3.8" text-anchor="middle" fill="#ececec">135</text>
<line x1="462.17" y1="148.00" x2="462.17" y2="149.30" stroke="#d4d4d4" stroke-width="0.5"/>
<text x="462.17" y="153.77" transform="rotate(0.06 462.2 153.8)" font-size="3.8" text-anchor="middle" fill="#ececec">180</text>
<line x1="473.04" y1="148.00" x2="473.04" y2="149.30" stroke="#d4d4d4" stroke-width="0.5"/>
<text x="473.04" y="153.77" transform="rotate(0.06 473.0 153.8)" font-size="3.8" text-anchor="middle" fill="#ececec">225</text>
<line x1="483.90" y1="148.00" x2="483.90" y2="149.30" stroke="#d4d4d4" stroke-width="0.5"/>
<text x="483.90" y="153.77" transform="rotate(0.06 483.9 153.8)" font-size="3.8" text-anchor="middle" fill="#ececec">270</text>
<line x1="494.77" y1="148.00" x2="494.77" y2="149.30" stroke="#d4d4d4" stroke-width="0.5"/>
<text x="494.77" y="153.77" transform="rotate(0.06 494.8 153.8)" font-size="3.8" text-anchor="middle" fill="#ececec">315</text>
<line x1="505.64" y1="148.00" x2="505.64" y2="149.30" stroke="#d4d4d4" stroke-width="0.5"/>
<text x="505.64" y="153.77" transform="rotate(0.06 505.6 153.8)" font-size="3.8" text-anchor="middle" fill="#ececec">360</text>
<text x="462.00" y="158.82" transform="rotate(0.06 462.0 158.8)" font-size="3.4" text-anchor="middle" fill="#e0e0e0">Onset of contraction (degrees)</text>
<text transform="translate(410.2,124.60) rotate(-89.94)" font-size="3.4" text-anchor="middle" fill="#e0e0e0" y="1.2">Frequency (%)</text>
<text x="472.30" y="110.40" transform="rotate(0.06 472.3 110.4)" font-size="5.82" font-weight="bold" fill="#fff">Stress</text>
<rect x="511.40" y="97.70" width="59.60" height="51.10" fill="#f0f0f0"/>
<text x="557.70" y="101.16" transform="rotate(0.06 557.7 101.2)" font-size="3.5" text-anchor="end" fill="#1a1a1a">Peak Phase (deg)</text>
<text x="561.20" y="101.16" transform="rotate(0.06 561.2 101.2)" font-size="3.5" fill="#1a1a1a">164,0</text>
<text x="557.70" y="105.46" transform="rotate(0.06 557.7 105.5)" font-size="3.5" text-anchor="end" fill="#1a1a1a">Standard Deviation (deg)</text>
<text x="561.20" y="105.46" transform="rotate(0.06 561.2 105.5)" font-size="3.5" fill="#1a1a1a">19,5</text>
<text x="557.70" y="109.66" transform="rotate(0.06 557.7 109.7)" font-size="3.5" text-anchor="end" fill="#1a1a1a">Histogram Bandwidth (deg)</text>
<text x="561.20" y="109.66" transform="rotate(0.06 561.2 109.7)" font-size="3.5" fill="#1a1a1a">42,0</text>
<text x="557.70" y="113.86" transform="rotate(0.06 557.7 113.9)" font-size="3.5" text-anchor="end" fill="#1a1a1a">Histogram Skewness</text>
<text x="561.20" y="113.86" transform="rotate(0.06 561.2 113.9)" font-size="3.5" fill="#1a1a1a">4,8</text>
<text x="557.70" y="118.06" transform="rotate(0.06 557.7 118.1)" font-size="3.5" text-anchor="end" fill="#1a1a1a">Histogram Kurtosis</text>
<text x="561.20" y="118.06" transform="rotate(0.06 561.2 118.1)" font-size="3.5" fill="#1a1a1a">26,1</text>
<text x="557.70" y="128.06" transform="rotate(0.06 557.7 128.1)" font-size="3.5" text-anchor="end" fill="#1a1a1a">End-Systolic Eccentricity</text>
<text x="561.20" y="128.06" transform="rotate(0.06 561.2 128.1)" font-size="3.5" fill="#1a1a1a">0,82</text>
<text x="557.70" y="132.46" transform="rotate(0.06 557.7 132.5)" font-size="3.5" text-anchor="end" fill="#1a1a1a">End-Diastolic Eccentricity</text>
<text x="561.20" y="132.46" transform="rotate(0.06 561.2 132.5)" font-size="3.5" fill="#1a1a1a">0,79</text>
<text x="557.70" y="142.06" transform="rotate(0.06 557.7 142.1)" font-size="3.5" text-anchor="end" fill="#1a1a1a">End-Systolic Shape Index</text>
<text x="561.20" y="142.06" transform="rotate(0.06 561.2 142.1)" font-size="3.5" fill="#1a1a1a">0,38</text>
<text x="557.70" y="146.36" transform="rotate(0.06 557.7 146.4)" font-size="3.5" text-anchor="end" fill="#1a1a1a">End-Diastolic Shape Index</text>
<text x="561.20" y="146.36" transform="rotate(0.06 561.2 146.4)" font-size="3.5" fill="#1a1a1a">0,61</text>
</g>
<g id="hist-rest">
<line x1="439.40" y1="169.30" x2="439.40" y2="215.20" stroke="#8c8c8c" stroke-width="0.8"/>
<line x1="458.40" y1="169.30" x2="458.40" y2="215.20" stroke="#c8503a" stroke-width="0.9"/>
<polygon points="446.29,215.17 447.71,214.28 449.14,213.03 450.38,211.61 451.27,208.05 451.81,202.71 452.34,196.84 452.87,198.26 453.41,200.58 454.12,199.51 454.83,197.37 455.54,199.51 456.25,197.73 456.79,196.66 457.32,197.02 457.68,192.92 457.95,186.70 458.14,169.61 458.82,169.61 459.01,186.70 459.28,195.59 459.81,201.82 460.53,206.63 461.24,209.47 461.95,212.32 463.02,214.10 464.44,215.17" fill="url(#hgR)"/>
<line x1="442.85" y1="215.20" x2="442.85" y2="214.60" stroke="#10a090" stroke-width="0.7"/>
<line x1="444.30" y1="215.20" x2="444.30" y2="214.20" stroke="#1080a0" stroke-width="0.7"/>
<line x1="445.75" y1="215.20" x2="445.75" y2="214.00" stroke="#2060d0" stroke-width="0.7"/>
<line x1="466.03" y1="215.20" x2="466.03" y2="214.50" stroke="#e0e0e0" stroke-width="0.7"/>
<line x1="467.72" y1="215.20" x2="467.72" y2="214.70" stroke="#d0d0d0" stroke-width="0.7"/>
<line x1="418.70" y1="169.30" x2="418.70" y2="215.50" stroke="#d4d4d4" stroke-width="0.55"/>
<line x1="418.40" y1="215.20" x2="506.20" y2="215.20" stroke="#d4d4d4" stroke-width="0.55"/>
<line x1="417.30" y1="215.20" x2="418.70" y2="215.20" stroke="#d4d4d4" stroke-width="0.5"/>
<text x="416.60" y="216.64" transform="rotate(0.06 416.6 216.6)" font-size="4.0" text-anchor="end" fill="#ececec">0</text>
<line x1="417.30" y1="208.90" x2="418.70" y2="208.90" stroke="#d4d4d4" stroke-width="0.5"/>
<text x="416.60" y="210.34" transform="rotate(0.06 416.6 210.3)" font-size="4.0" text-anchor="end" fill="#ececec">1</text>
<line x1="417.30" y1="202.60" x2="418.70" y2="202.60" stroke="#d4d4d4" stroke-width="0.5"/>
<text x="416.60" y="204.04" transform="rotate(0.06 416.6 204.0)" font-size="4.0" text-anchor="end" fill="#ececec">2</text>
<line x1="417.30" y1="196.30" x2="418.70" y2="196.30" stroke="#d4d4d4" stroke-width="0.5"/>
<text x="416.60" y="197.74" transform="rotate(0.06 416.6 197.7)" font-size="4.0" text-anchor="end" fill="#ececec">3</text>
<line x1="417.30" y1="190.00" x2="418.70" y2="190.00" stroke="#d4d4d4" stroke-width="0.5"/>
<text x="416.60" y="191.44" transform="rotate(0.06 416.6 191.4)" font-size="4.0" text-anchor="end" fill="#ececec">4</text>
<line x1="417.30" y1="183.70" x2="418.70" y2="183.70" stroke="#d4d4d4" stroke-width="0.5"/>
<text x="416.60" y="185.14" transform="rotate(0.06 416.6 185.1)" font-size="4.0" text-anchor="end" fill="#ececec">5</text>
<line x1="417.30" y1="177.40" x2="418.70" y2="177.40" stroke="#d4d4d4" stroke-width="0.5"/>
<text x="416.60" y="178.84" transform="rotate(0.06 416.6 178.8)" font-size="4.0" text-anchor="end" fill="#ececec">6</text>
<line x1="417.30" y1="171.10" x2="418.70" y2="171.10" stroke="#d4d4d4" stroke-width="0.5"/>
<text x="416.60" y="172.54" transform="rotate(0.06 416.6 172.5)" font-size="4.0" text-anchor="end" fill="#ececec">7</text>
<line x1="418.70" y1="215.20" x2="418.70" y2="216.50" stroke="#d4d4d4" stroke-width="0.5"/>
<text x="418.70" y="220.77" transform="rotate(0.06 418.7 220.8)" font-size="3.8" text-anchor="middle" fill="#ececec">0</text>
<line x1="429.57" y1="215.20" x2="429.57" y2="216.50" stroke="#d4d4d4" stroke-width="0.5"/>
<text x="429.57" y="220.77" transform="rotate(0.06 429.6 220.8)" font-size="3.8" text-anchor="middle" fill="#ececec">45</text>
<line x1="440.44" y1="215.20" x2="440.44" y2="216.50" stroke="#d4d4d4" stroke-width="0.5"/>
<text x="440.44" y="220.77" transform="rotate(0.06 440.4 220.8)" font-size="3.8" text-anchor="middle" fill="#ececec">90</text>
<line x1="451.30" y1="215.20" x2="451.30" y2="216.50" stroke="#d4d4d4" stroke-width="0.5"/>
<text x="451.30" y="220.77" transform="rotate(0.06 451.3 220.8)" font-size="3.8" text-anchor="middle" fill="#ececec">135</text>
<line x1="462.17" y1="215.20" x2="462.17" y2="216.50" stroke="#d4d4d4" stroke-width="0.5"/>
<text x="462.17" y="220.77" transform="rotate(0.06 462.2 220.8)" font-size="3.8" text-anchor="middle" fill="#ececec">180</text>
<line x1="473.04" y1="215.20" x2="473.04" y2="216.50" stroke="#d4d4d4" stroke-width="0.5"/>
<text x="473.04" y="220.77" transform="rotate(0.06 473.0 220.8)" font-size="3.8" text-anchor="middle" fill="#ececec">225</text>
<line x1="483.90" y1="215.20" x2="483.90" y2="216.50" stroke="#d4d4d4" stroke-width="0.5"/>
<text x="483.90" y="220.77" transform="rotate(0.06 483.9 220.8)" font-size="3.8" text-anchor="middle" fill="#ececec">270</text>
<line x1="494.77" y1="215.20" x2="494.77" y2="216.50" stroke="#d4d4d4" stroke-width="0.5"/>
<text x="494.77" y="220.77" transform="rotate(0.06 494.8 220.8)" font-size="3.8" text-anchor="middle" fill="#ececec">315</text>
<line x1="505.64" y1="215.20" x2="505.64" y2="216.50" stroke="#d4d4d4" stroke-width="0.5"/>
<text x="505.64" y="220.77" transform="rotate(0.06 505.6 220.8)" font-size="3.8" text-anchor="middle" fill="#ececec">360</text>
<text x="462.00" y="225.72" transform="rotate(0.06 462.0 225.7)" font-size="3.4" text-anchor="middle" fill="#e0e0e0">Onset of contraction (degrees)</text>
<text transform="translate(410.2,192.25) rotate(-89.94)" font-size="3.4" text-anchor="middle" fill="#e0e0e0" y="1.2">Frequency (%)</text>
<text x="473.20" y="175.83" transform="rotate(0.06 473.2 175.8)" font-size="5.91" font-weight="bold" fill="#fff">Rest</text>
<rect x="511.90" y="165.00" width="60.30" height="50.30" fill="#f0f0f0"/>
<text x="559.70" y="168.46" transform="rotate(0.06 559.7 168.5)" font-size="3.5" text-anchor="end" fill="#1a1a1a">Peak Phase (deg)</text>
<text x="563.50" y="168.46" transform="rotate(0.06 563.5 168.5)" font-size="3.5" fill="#1a1a1a">158,0</text>
<text x="559.70" y="172.76" transform="rotate(0.06 559.7 172.8)" font-size="3.5" text-anchor="end" fill="#1a1a1a">Standard Deviation (deg)</text>
<text x="563.50" y="172.76" transform="rotate(0.06 563.5 172.8)" font-size="3.5" fill="#1a1a1a">19,4</text>
<text x="559.70" y="176.96" transform="rotate(0.06 559.7 177.0)" font-size="3.5" text-anchor="end" fill="#1a1a1a">Histogram Bandwidth (deg)</text>
<text x="563.50" y="176.96" transform="rotate(0.06 563.5 177.0)" font-size="3.5" fill="#1a1a1a">45,0</text>
<text x="559.70" y="181.26" transform="rotate(0.06 559.7 181.3)" font-size="3.5" text-anchor="end" fill="#1a1a1a">Histogram Skewness</text>
<text x="563.50" y="181.26" transform="rotate(0.06 563.5 181.3)" font-size="3.5" fill="#1a1a1a">4,1</text>
<text x="559.70" y="185.66" transform="rotate(0.06 559.7 185.7)" font-size="3.5" text-anchor="end" fill="#1a1a1a">Histogram Kurtosis</text>
<text x="563.50" y="185.66" transform="rotate(0.06 563.5 185.7)" font-size="3.5" fill="#1a1a1a">20,0</text>
<text x="559.70" y="195.66" transform="rotate(0.06 559.7 195.7)" font-size="3.5" text-anchor="end" fill="#1a1a1a">End-Systolic Eccentricity</text>
<text x="563.50" y="195.66" transform="rotate(0.06 563.5 195.7)" font-size="3.5" fill="#1a1a1a">0,85</text>
<text x="559.70" y="199.86" transform="rotate(0.06 559.7 199.9)" font-size="3.5" text-anchor="end" fill="#1a1a1a">End-Diastolic Eccentricity</text>
<text x="563.50" y="199.86" transform="rotate(0.06 563.5 199.9)" font-size="3.5" fill="#1a1a1a">0,82</text>
<text x="559.70" y="209.86" transform="rotate(0.06 559.7 209.9)" font-size="3.5" text-anchor="end" fill="#1a1a1a">End-Systolic Shape Index</text>
<text x="563.50" y="209.86" transform="rotate(0.06 563.5 209.9)" font-size="3.5" fill="#1a1a1a">0,37</text>
<text x="559.70" y="214.26" transform="rotate(0.06 559.7 214.3)" font-size="3.5" text-anchor="end" fill="#1a1a1a">End-Diastolic Shape Index</text>
<text x="563.50" y="214.26" transform="rotate(0.06 563.5 214.3)" font-size="3.5" fill="#1a1a1a">0,58</text>
</g>
<g id="strain-stress">
<text x="267.90" y="247.74" transform="rotate(0.06 267.9 247.7)" font-size="6.21" font-weight="bold" fill="#fff">Stress</text>
<path d="M306.01,250.26 C307.13,250.39 310.78,250.13 312.69,251.02 C314.60,251.91 315.87,253.54 317.46,255.60 C319.05,257.67 320.48,260.37 322.23,263.42 C323.98,266.48 326.05,271.18 327.95,273.92 C329.86,276.65 331.93,278.49 333.68,279.83 C335.42,281.17 336.86,281.67 338.45,281.93 C340.03,282.18 341.72,281.61 343.21,281.36 C344.71,281.10 345.98,280.43 347.41,280.40 C348.84,280.37 350.43,280.94 351.80,281.17 C353.17,281.39 354.18,282.15 355.61,281.74 C357.05,281.32 358.79,280.63 360.38,278.69 C361.97,276.75 363.40,273.60 365.15,270.10 C366.90,266.60 368.81,261.61 370.88,257.70 C372.94,253.79 376.44,248.48 377.55,246.64" fill="none" stroke="#e8e020" stroke-width="0.62" stroke-linecap="round" stroke-linejoin="round"/>
<path d="M306.01,249.12 C307.13,249.24 310.78,248.99 312.69,249.88 C314.60,250.77 315.87,252.23 317.46,254.46 C319.05,256.68 320.48,260.02 322.23,263.23 C323.98,266.44 326.05,270.80 327.95,273.73 C329.86,276.65 331.93,279.26 333.68,280.78 C335.42,282.31 336.86,282.63 338.45,282.88 C340.03,283.14 341.72,282.56 343.21,282.31 C344.71,282.06 345.98,281.39 347.41,281.36 C348.84,281.32 350.43,281.90 351.80,282.12 C353.17,282.34 354.18,283.30 355.61,282.69 C357.05,282.09 358.79,280.63 360.38,278.49 C361.97,276.36 363.40,273.41 365.15,269.91 C366.90,266.41 368.81,261.42 370.88,257.51 C372.94,253.60 376.44,248.29 377.55,246.45" fill="none" stroke="#e02020" stroke-width="0.62" stroke-linecap="round" stroke-linejoin="round"/>
<path d="M306.01,248.35 C307.13,248.48 310.78,248.23 312.69,249.12 C314.60,250.01 315.87,251.37 317.46,253.70 C319.05,256.02 320.48,259.74 322.23,263.04 C323.98,266.35 326.05,270.42 327.95,273.53 C329.86,276.65 331.93,280.02 333.68,281.74 C335.42,283.45 336.86,283.58 338.45,283.84 C340.03,284.09 341.72,283.52 343.21,283.26 C344.71,283.01 345.98,282.34 347.41,282.31 C348.84,282.28 350.43,282.85 351.80,283.07 C353.17,283.30 354.18,284.44 355.61,283.65 C357.05,282.85 358.79,280.63 360.38,278.30 C361.97,275.98 363.40,273.22 365.15,269.72 C366.90,266.22 368.81,261.23 370.88,257.32 C372.94,253.41 376.44,248.10 377.55,246.26" fill="none" stroke="#20a030" stroke-width="0.62" stroke-linecap="round" stroke-linejoin="round"/>
<path d="M306.01,247.59 C307.13,247.72 310.78,247.46 312.69,248.35 C314.60,249.24 315.87,250.55 317.46,252.93 C319.05,255.32 320.48,259.29 322.23,262.66 C323.98,266.03 326.05,270.16 327.95,273.15 C329.86,276.14 331.93,279.00 333.68,280.59 C335.42,282.18 336.86,282.44 338.45,282.69 C340.03,282.95 341.72,282.37 343.21,282.12 C344.71,281.87 345.98,281.20 347.41,281.17 C348.84,281.13 350.43,281.71 351.80,281.93 C353.17,282.15 354.18,283.17 355.61,282.50 C357.05,281.83 358.79,280.12 360.38,277.92 C361.97,275.73 363.40,272.84 365.15,269.34 C366.90,265.84 368.81,260.85 370.88,256.94 C372.94,253.03 376.44,247.72 377.55,245.87" fill="none" stroke="#2030e0" stroke-width="0.62" stroke-linecap="round" stroke-linejoin="round"/>
<path d="M306.01,247.59 C307.13,247.97 310.78,248.42 312.69,249.88 C314.60,251.34 315.87,253.60 317.46,256.37 C319.05,259.13 320.48,262.88 322.23,266.48 C323.98,270.07 326.05,274.74 327.95,277.92 C329.86,281.10 331.93,283.84 333.68,285.55 C335.42,287.27 336.86,287.84 338.45,288.22 C340.03,288.61 341.72,288.06 343.21,287.84 C344.71,287.62 345.98,286.89 347.41,286.89 C348.84,286.89 350.43,287.78 351.80,287.84 C353.17,287.91 354.18,288.45 355.61,287.27 C357.05,286.09 358.79,283.52 360.38,280.78 C361.97,278.05 363.40,274.74 365.15,270.86 C366.90,266.99 368.81,261.68 370.88,257.51 C372.94,253.35 376.44,247.81 377.55,245.87" fill="none" stroke="#b020c0" stroke-width="0.62" stroke-linecap="round" stroke-linejoin="round"/>
<line x1="305.60" y1="244.90" x2="305.60" y2="294.10" stroke="#d4d4d4" stroke-width="0.55"/>
<line x1="305.30" y1="293.80" x2="377.60" y2="293.80" stroke="#d4d4d4" stroke-width="0.55"/>
<line x1="304.30" y1="244.90" x2="305.60" y2="244.90" stroke="#d4d4d4" stroke-width="0.5"/>
<text x="303.60" y="246.09" transform="rotate(0.06 303.6 246.1)" font-size="3.3" text-anchor="end" font-weight="bold" fill="#ececec">0</text>
<line x1="304.30" y1="254.68" x2="305.60" y2="254.68" stroke="#d4d4d4" stroke-width="0.5"/>
<text x="303.60" y="255.87" transform="rotate(0.06 303.6 255.9)" font-size="3.3" text-anchor="end" font-weight="bold" fill="#ececec">-5.8</text>
<line x1="304.30" y1="264.46" x2="305.60" y2="264.46" stroke="#d4d4d4" stroke-width="0.5"/>
<text x="303.60" y="265.65" transform="rotate(0.06 303.6 265.6)" font-size="3.3" text-anchor="end" font-weight="bold" fill="#ececec">-11.6</text>
<line x1="304.30" y1="274.24" x2="305.60" y2="274.24" stroke="#d4d4d4" stroke-width="0.5"/>
<text x="303.60" y="275.43" transform="rotate(0.06 303.6 275.4)" font-size="3.3" text-anchor="end" font-weight="bold" fill="#ececec">-17.4</text>
<line x1="304.30" y1="284.02" x2="305.60" y2="284.02" stroke="#d4d4d4" stroke-width="0.5"/>
<text x="303.60" y="285.21" transform="rotate(0.06 303.6 285.2)" font-size="3.3" text-anchor="end" font-weight="bold" fill="#ececec">-23.2</text>
<line x1="304.30" y1="293.80" x2="305.60" y2="293.80" stroke="#d4d4d4" stroke-width="0.5"/>
<text x="303.60" y="294.99" transform="rotate(0.06 303.6 295.0)" font-size="3.3" text-anchor="end" font-weight="bold" fill="#ececec">-29</text>
<line x1="319.80" y1="293.80" x2="319.80" y2="295.00" stroke="#d4d4d4" stroke-width="0.5"/>
<text x="319.80" y="297.99" transform="rotate(0.06 319.8 298.0)" font-size="3.3" text-anchor="middle" font-weight="bold" fill="#ececec">0.19</text>
<line x1="334.20" y1="293.80" x2="334.20" y2="295.00" stroke="#d4d4d4" stroke-width="0.5"/>
<text x="334.20" y="297.99" transform="rotate(0.06 334.2 298.0)" font-size="3.3" text-anchor="middle" font-weight="bold" fill="#ececec">0.38</text>
<line x1="348.50" y1="293.80" x2="348.50" y2="295.00" stroke="#d4d4d4" stroke-width="0.5"/>
<text x="348.50" y="297.99" transform="rotate(0.06 348.5 298.0)" font-size="3.3" text-anchor="middle" font-weight="bold" fill="#ececec">0.58</text>
<line x1="362.90" y1="293.80" x2="362.90" y2="295.00" stroke="#d4d4d4" stroke-width="0.5"/>
<text x="362.90" y="297.99" transform="rotate(0.06 362.9 298.0)" font-size="3.3" text-anchor="middle" font-weight="bold" fill="#ececec">0.78</text>
<line x1="377.30" y1="293.80" x2="377.30" y2="295.00" stroke="#d4d4d4" stroke-width="0.5"/>
<text x="377.30" y="297.99" transform="rotate(0.06 377.3 298.0)" font-size="3.3" text-anchor="middle" font-weight="bold" fill="#ececec">0.96</text>
<text x="341.30" y="302.88" transform="rotate(0.06 341.3 302.9)" font-size="3.0" text-anchor="middle" fill="#e0e0e0">Seconds</text>
<text x="323.30" y="244.86" transform="rotate(0.06 323.3 244.9)" font-size="5.17" fill="#f0f0f0">Longitudinal Strain</text>
<text transform="translate(290.20,269.35) rotate(-89.94)" font-size="5.1" text-anchor="middle" fill="#f4f4f4" y="1.8">Strain</text>
<text x="419.10" y="239.09" transform="rotate(0.06 419.1 239.1)" font-size="3.3" text-anchor="middle" font-weight="bold" fill="#f0f0f0">Strain</text>
<text x="434.90" y="239.09" transform="rotate(0.06 434.9 239.1)" font-size="3.3" text-anchor="middle" font-weight="bold" fill="#f0f0f0">Reserve</text>
<text x="391.10" y="243.29" transform="rotate(0.06 391.1 243.3)" font-size="3.3" text-anchor="middle" font-weight="bold" fill="#f0f0f0">Long</text>
<text x="408.30" y="243.29" transform="rotate(0.06 408.3 243.3)" font-size="3.3" text-anchor="end" font-weight="bold" fill="#e02020">Ant</text>
<text x="419.10" y="243.29" transform="rotate(0.06 419.1 243.3)" font-size="3.3" text-anchor="middle" font-weight="bold" fill="#f0f0f0">-21.6</text>
<text x="434.90" y="243.29" transform="rotate(0.06 434.9 243.3)" font-size="3.3" text-anchor="middle" font-weight="bold" fill="#f0f0f0">0.7</text>
<text x="408.30" y="247.09" transform="rotate(0.06 408.3 247.1)" font-size="3.3" text-anchor="end" font-weight="bold" fill="#e8e020">Sep</text>
<text x="419.10" y="247.09" transform="rotate(0.06 419.1 247.1)" font-size="3.3" text-anchor="middle" font-weight="bold" fill="#f0f0f0">-21.7</text>
<text x="434.90" y="247.09" transform="rotate(0.06 434.9 247.1)" font-size="3.3" text-anchor="middle" font-weight="bold" fill="#f0f0f0">0.7</text>
<text x="408.30" y="250.89" transform="rotate(0.06 408.3 250.9)" font-size="3.3" text-anchor="end" font-weight="bold" fill="#20a030">Inf</text>
<text x="419.10" y="250.89" transform="rotate(0.06 419.1 250.9)" font-size="3.3" text-anchor="middle" font-weight="bold" fill="#f0f0f0">-23.8</text>
<text x="434.90" y="250.89" transform="rotate(0.06 434.9 250.9)" font-size="3.3" text-anchor="middle" font-weight="bold" fill="#f0f0f0">0.8</text>
<text x="408.30" y="254.69" transform="rotate(0.06 408.3 254.7)" font-size="3.3" text-anchor="end" font-weight="bold" fill="#2030e0">Lat</text>
<text x="419.10" y="254.69" transform="rotate(0.06 419.1 254.7)" font-size="3.3" text-anchor="middle" font-weight="bold" fill="#f0f0f0">-23.2</text>
<text x="434.90" y="254.69" transform="rotate(0.06 434.9 254.7)" font-size="3.3" text-anchor="middle" font-weight="bold" fill="#f0f0f0">0.7</text>
<text x="408.30" y="258.69" transform="rotate(0.06 408.3 258.7)" font-size="3.3" text-anchor="end" font-weight="bold" fill="#b020c0">Apex</text>
<text x="419.10" y="258.69" transform="rotate(0.06 419.1 258.7)" font-size="3.3" text-anchor="middle" font-weight="bold" fill="#f0f0f0">-25.6</text>
<text x="434.90" y="258.69" transform="rotate(0.06 434.9 258.7)" font-size="3.3" text-anchor="middle" font-weight="bold" fill="#f0f0f0">0.8</text>
<text x="391.10" y="266.09" transform="rotate(0.06 391.1 266.1)" font-size="3.3" text-anchor="middle" font-weight="bold" fill="#f0f0f0">Circ</text>
<text x="408.30" y="266.09" transform="rotate(0.06 408.3 266.1)" font-size="3.3" text-anchor="end" font-weight="bold" fill="#f0f0f0">Ant</text>
<text x="419.10" y="266.09" transform="rotate(0.06 419.1 266.1)" font-size="3.3" text-anchor="middle" font-weight="bold" fill="#f0f0f0">-50.9</text>
<text x="434.90" y="266.09" transform="rotate(0.06 434.9 266.1)" font-size="3.3" text-anchor="middle" font-weight="bold" fill="#f0f0f0">0.9</text>
<text x="408.30" y="269.99" transform="rotate(0.06 408.3 270.0)" font-size="3.3" text-anchor="end" font-weight="bold" fill="#f0f0f0">Sep</text>
<text x="419.10" y="269.99" transform="rotate(0.06 419.1 270.0)" font-size="3.3" text-anchor="middle" font-weight="bold" fill="#f0f0f0">-46.8</text>
<text x="434.90" y="269.99" transform="rotate(0.06 434.9 270.0)" font-size="3.3" text-anchor="middle" font-weight="bold" fill="#f0f0f0">0.8</text>
<text x="408.30" y="273.79" transform="rotate(0.06 408.3 273.8)" font-size="3.3" text-anchor="end" font-weight="bold" fill="#f0f0f0">Inf</text>
<text x="419.10" y="273.79" transform="rotate(0.06 419.1 273.8)" font-size="3.3" text-anchor="middle" font-weight="bold" fill="#f0f0f0">-52.5</text>
<text x="434.90" y="273.79" transform="rotate(0.06 434.9 273.8)" font-size="3.3" text-anchor="middle" font-weight="bold" fill="#f0f0f0">0.8</text>
<text x="408.30" y="277.69" transform="rotate(0.06 408.3 277.7)" font-size="3.3" text-anchor="end" font-weight="bold" fill="#f0f0f0">Lat</text>
<text x="419.10" y="277.69" transform="rotate(0.06 419.1 277.7)" font-size="3.3" text-anchor="middle" font-weight="bold" fill="#f0f0f0">-54.0</text>
<text x="434.90" y="277.69" transform="rotate(0.06 434.9 277.7)" font-size="3.3" text-anchor="middle" font-weight="bold" fill="#f0f0f0">0.8</text>
<text x="408.30" y="281.99" transform="rotate(0.06 408.3 282.0)" font-size="3.3" text-anchor="end" font-weight="bold" fill="#f0f0f0">Apex</text>
<text x="419.10" y="281.99" transform="rotate(0.06 419.1 282.0)" font-size="3.3" text-anchor="middle" font-weight="bold" fill="#f0f0f0">-59.3</text>
<text x="434.90" y="281.99" transform="rotate(0.06 434.9 282.0)" font-size="3.3" text-anchor="middle" font-weight="bold" fill="#f0f0f0">1.0</text>
<text x="391.10" y="289.59" transform="rotate(0.06 391.1 289.6)" font-size="3.3" text-anchor="middle" font-weight="bold" fill="#f0f0f0">Rad</text>
<text x="408.30" y="289.59" transform="rotate(0.06 408.3 289.6)" font-size="3.3" text-anchor="end" font-weight="bold" fill="#f0f0f0">Ant</text>
<text x="419.10" y="289.59" transform="rotate(0.06 419.1 289.6)" font-size="3.3" text-anchor="middle" font-weight="bold" fill="#f0f0f0">41.8</text>
<text x="434.90" y="289.59" transform="rotate(0.06 434.9 289.6)" font-size="3.3" text-anchor="middle" font-weight="bold" fill="#f0f0f0">1.1</text>
<text x="408.30" y="293.39" transform="rotate(0.06 408.3 293.4)" font-size="3.3" text-anchor="end" font-weight="bold" fill="#f0f0f0">Sep</text>
<text x="419.10" y="293.39" transform="rotate(0.06 419.1 293.4)" font-size="3.3" text-anchor="middle" font-weight="bold" fill="#f0f0f0">46.2</text>
<text x="434.90" y="293.39" transform="rotate(0.06 434.9 293.4)" font-size="3.3" text-anchor="middle" font-weight="bold" fill="#f0f0f0">1.2</text>
<text x="408.30" y="297.19" transform="rotate(0.06 408.3 297.2)" font-size="3.3" text-anchor="end" font-weight="bold" fill="#f0f0f0">Inf</text>
<text x="419.10" y="297.19" transform="rotate(0.06 419.1 297.2)" font-size="3.3" text-anchor="middle" font-weight="bold" fill="#f0f0f0">60.9</text>
<text x="434.90" y="297.19" transform="rotate(0.06 434.9 297.2)" font-size="3.3" text-anchor="middle" font-weight="bold" fill="#f0f0f0">0.9</text>
<text x="408.30" y="301.09" transform="rotate(0.06 408.3 301.1)" font-size="3.3" text-anchor="end" font-weight="bold" fill="#f0f0f0">Lat</text>
<text x="419.10" y="301.09" transform="rotate(0.06 419.1 301.1)" font-size="3.3" text-anchor="middle" font-weight="bold" fill="#f0f0f0">52.6</text>
<text x="434.90" y="301.09" transform="rotate(0.06 434.9 301.1)" font-size="3.3" text-anchor="middle" font-weight="bold" fill="#f0f0f0">0.9</text>
<text x="408.30" y="305.19" transform="rotate(0.06 408.3 305.2)" font-size="3.3" text-anchor="end" font-weight="bold" fill="#f0f0f0">Apex</text>
<text x="419.10" y="305.19" transform="rotate(0.06 419.1 305.2)" font-size="3.3" text-anchor="middle" font-weight="bold" fill="#f0f0f0">54.5</text>
<text x="434.90" y="305.19" transform="rotate(0.06 434.9 305.2)" font-size="3.3" text-anchor="middle" font-weight="bold" fill="#f0f0f0">0.8</text>
</g>
<g id="strain-rest">
<text x="269.50" y="322.69" transform="rotate(0.06 269.5 322.7)" font-size="6.64" font-weight="bold" fill="#fff">Rest</text>
<path d="M305.68,322.90 C306.52,323.91 308.90,326.56 310.76,329.00 C312.62,331.44 314.66,334.59 316.86,337.54 C319.06,340.49 321.78,343.98 323.98,346.69 C326.18,349.40 328.05,351.71 330.08,353.81 C332.11,355.91 334.15,357.74 336.18,359.30 C338.22,360.86 340.59,362.59 342.28,363.17 C343.98,363.74 344.99,363.37 346.35,362.76 C347.71,362.15 348.89,361.57 350.42,359.50 C351.94,357.44 353.98,353.57 355.50,350.35 C357.03,347.13 358.21,343.07 359.57,340.18 C360.93,337.30 362.11,334.83 363.64,333.07 C365.16,331.30 367.03,330.59 368.72,329.61 C370.42,328.63 372.35,327.78 373.81,327.17 C375.26,326.56 376.86,326.15 377.47,325.95" fill="none" stroke="#e8e020" stroke-width="0.62" stroke-linecap="round" stroke-linejoin="round"/>
<path d="M305.68,322.90 C306.52,323.91 308.90,326.56 310.76,329.00 C312.62,331.44 314.66,334.32 316.86,337.54 C319.06,340.76 321.78,345.34 323.98,348.32 C326.18,351.30 328.05,353.13 330.08,355.44 C332.11,357.74 334.15,360.56 336.18,362.15 C338.22,363.74 340.59,364.59 342.28,365.00 C343.98,365.40 344.99,365.40 346.35,364.59 C347.71,363.78 348.89,362.59 350.42,360.11 C351.94,357.64 353.98,353.17 355.50,349.74 C357.03,346.32 358.21,342.46 359.57,339.57 C360.93,336.69 362.11,334.22 363.64,332.46 C365.16,330.69 367.03,329.98 368.72,329.00 C370.42,328.02 372.35,327.17 373.81,326.56 C375.26,325.95 376.86,325.54 377.47,325.34" fill="none" stroke="#e02020" stroke-width="0.62" stroke-linecap="round" stroke-linejoin="round"/>
<path d="M305.68,322.90 C306.52,323.91 308.90,326.56 310.76,329.00 C312.62,331.44 314.66,334.22 316.86,337.54 C319.06,340.86 321.78,345.84 323.98,348.93 C326.18,352.01 328.05,353.95 330.08,356.05 C332.11,358.15 334.15,360.35 336.18,361.54 C338.22,362.72 340.59,362.96 342.28,363.17 C343.98,363.37 344.99,363.37 346.35,362.76 C347.71,362.15 348.89,361.61 350.42,359.50 C351.94,357.40 353.98,353.40 355.50,350.15 C357.03,346.90 358.21,342.86 359.57,339.98 C360.93,337.10 362.11,334.63 363.64,332.86 C365.16,331.10 367.03,330.39 368.72,329.41 C370.42,328.42 372.35,327.57 373.81,326.96 C375.26,326.35 376.86,325.95 377.47,325.74" fill="none" stroke="#20a030" stroke-width="0.62" stroke-linecap="round" stroke-linejoin="round"/>
<path d="M305.68,322.29 C306.52,323.30 308.90,325.95 310.76,328.39 C312.62,330.83 314.66,333.81 316.86,336.93 C319.06,340.05 321.78,344.22 323.98,347.10 C326.18,349.98 328.05,352.01 330.08,354.22 C332.11,356.42 334.15,358.83 336.18,360.32 C338.22,361.81 340.59,362.76 342.28,363.17 C343.98,363.57 344.99,363.37 346.35,362.76 C347.71,362.15 348.89,361.88 350.42,359.50 C351.94,357.13 353.98,352.05 355.50,348.52 C357.03,345.00 358.21,341.23 359.57,338.35 C360.93,335.47 362.11,333.00 363.64,331.24 C365.16,329.47 367.03,328.76 368.72,327.78 C370.42,326.80 372.35,325.95 373.81,325.34 C375.26,324.73 376.86,324.32 377.47,324.12" fill="none" stroke="#2030e0" stroke-width="0.62" stroke-linecap="round" stroke-linejoin="round"/>
<path d="M305.68,322.90 C306.52,324.05 308.90,326.96 310.76,329.81 C312.62,332.66 314.66,336.25 316.86,339.98 C319.06,343.71 321.78,348.93 323.98,352.18 C326.18,355.44 328.05,357.54 330.08,359.50 C332.11,361.47 334.15,362.96 336.18,363.98 C338.22,365.00 340.59,365.40 342.28,365.61 C343.98,365.81 344.83,365.95 346.35,365.20 C347.88,364.45 349.74,363.50 351.43,361.13 C353.13,358.76 354.99,354.56 356.52,350.96 C358.04,347.37 359.23,343.17 360.59,339.57 C361.94,335.98 363.30,331.85 364.65,329.41 C366.01,326.96 367.37,325.81 368.72,324.93 C370.08,324.05 371.33,324.05 372.79,324.12 C374.25,324.19 376.69,325.13 377.47,325.34" fill="none" stroke="#b020c0" stroke-width="0.62" stroke-linecap="round" stroke-linejoin="round"/>
<line x1="305.70" y1="322.70" x2="305.70" y2="370.80" stroke="#d4d4d4" stroke-width="0.55"/>
<line x1="305.40" y1="370.50" x2="377.50" y2="370.50" stroke="#d4d4d4" stroke-width="0.55"/>
<line x1="304.40" y1="322.70" x2="305.70" y2="322.70" stroke="#d4d4d4" stroke-width="0.5"/>
<text x="303.70" y="323.89" transform="rotate(0.06 303.7 323.9)" font-size="3.3" text-anchor="end" font-weight="bold" fill="#ececec">0</text>
<line x1="304.40" y1="332.26" x2="305.70" y2="332.26" stroke="#d4d4d4" stroke-width="0.5"/>
<text x="303.70" y="333.45" transform="rotate(0.06 303.7 333.4)" font-size="3.3" text-anchor="end" font-weight="bold" fill="#ececec">-7.6</text>
<line x1="304.40" y1="341.82" x2="305.70" y2="341.82" stroke="#d4d4d4" stroke-width="0.5"/>
<text x="303.70" y="343.01" transform="rotate(0.06 303.7 343.0)" font-size="3.3" text-anchor="end" font-weight="bold" fill="#ececec">-15.2</text>
<line x1="304.40" y1="351.38" x2="305.70" y2="351.38" stroke="#d4d4d4" stroke-width="0.5"/>
<text x="303.70" y="352.57" transform="rotate(0.06 303.7 352.6)" font-size="3.3" text-anchor="end" font-weight="bold" fill="#ececec">-22.8</text>
<line x1="304.40" y1="360.94" x2="305.70" y2="360.94" stroke="#d4d4d4" stroke-width="0.5"/>
<text x="303.70" y="362.13" transform="rotate(0.06 303.7 362.1)" font-size="3.3" text-anchor="end" font-weight="bold" fill="#ececec">-30.4</text>
<line x1="304.40" y1="370.50" x2="305.70" y2="370.50" stroke="#d4d4d4" stroke-width="0.5"/>
<text x="303.70" y="371.69" transform="rotate(0.06 303.7 371.7)" font-size="3.3" text-anchor="end" font-weight="bold" fill="#ececec">-38</text>
<line x1="319.80" y1="370.50" x2="319.80" y2="371.70" stroke="#d4d4d4" stroke-width="0.5"/>
<text x="319.80" y="374.79" transform="rotate(0.06 319.8 374.8)" font-size="3.3" text-anchor="middle" font-weight="bold" fill="#ececec">0.19</text>
<line x1="334.20" y1="370.50" x2="334.20" y2="371.70" stroke="#d4d4d4" stroke-width="0.5"/>
<text x="334.20" y="374.79" transform="rotate(0.06 334.2 374.8)" font-size="3.3" text-anchor="middle" font-weight="bold" fill="#ececec">0.38</text>
<line x1="348.50" y1="370.50" x2="348.50" y2="371.70" stroke="#d4d4d4" stroke-width="0.5"/>
<text x="348.50" y="374.79" transform="rotate(0.06 348.5 374.8)" font-size="3.3" text-anchor="middle" font-weight="bold" fill="#ececec">0.58</text>
<line x1="362.90" y1="370.50" x2="362.90" y2="371.70" stroke="#d4d4d4" stroke-width="0.5"/>
<text x="362.90" y="374.79" transform="rotate(0.06 362.9 374.8)" font-size="3.3" text-anchor="middle" font-weight="bold" fill="#ececec">0.78</text>
<line x1="377.30" y1="370.50" x2="377.30" y2="371.70" stroke="#d4d4d4" stroke-width="0.5"/>
<text x="377.30" y="374.79" transform="rotate(0.06 377.3 374.8)" font-size="3.3" text-anchor="middle" font-weight="bold" fill="#ececec">0.96</text>
<text x="341.30" y="379.38" transform="rotate(0.06 341.3 379.4)" font-size="3.0" text-anchor="middle" fill="#e0e0e0">Seconds</text>
<text x="317.85" y="321.66" transform="rotate(0.06 317.9 321.7)" font-size="5.17" fill="#f0f0f0">Longitudinal Strain</text>
<text transform="translate(289.80,346.60) rotate(-89.94)" font-size="5.1" text-anchor="middle" fill="#f4f4f4" y="1.8">Strain</text>
<text x="419.10" y="315.99" transform="rotate(0.06 419.1 316.0)" font-size="3.3" text-anchor="middle" font-weight="bold" fill="#f0f0f0">Strain</text>
<text x="434.90" y="315.99" transform="rotate(0.06 434.9 316.0)" font-size="3.3" text-anchor="middle" font-weight="bold" fill="#f0f0f0">Reserve</text>
<text x="391.10" y="320.19" transform="rotate(0.06 391.1 320.2)" font-size="3.3" text-anchor="middle" font-weight="bold" fill="#f0f0f0">Long</text>
<text x="408.30" y="320.19" transform="rotate(0.06 408.3 320.2)" font-size="3.3" text-anchor="end" font-weight="bold" fill="#e02020">Ant</text>
<text x="419.10" y="320.19" transform="rotate(0.06 419.1 320.2)" font-size="3.3" text-anchor="middle" font-weight="bold" fill="#f0f0f0">-31.2</text>
<text x="434.90" y="320.19" transform="rotate(0.06 434.9 320.2)" font-size="3.3" text-anchor="middle" font-weight="bold" fill="#f0f0f0">0.7</text>
<text x="408.30" y="323.79" transform="rotate(0.06 408.3 323.8)" font-size="3.3" text-anchor="end" font-weight="bold" fill="#e8e020">Sep</text>
<text x="419.10" y="323.79" transform="rotate(0.06 419.1 323.8)" font-size="3.3" text-anchor="middle" font-weight="bold" fill="#f0f0f0">-30.0</text>
<text x="434.90" y="323.79" transform="rotate(0.06 434.9 323.8)" font-size="3.3" text-anchor="middle" font-weight="bold" fill="#f0f0f0">0.7</text>
<text x="408.30" y="327.39" transform="rotate(0.06 408.3 327.4)" font-size="3.3" text-anchor="end" font-weight="bold" fill="#20a030">Inf</text>
<text x="419.10" y="327.39" transform="rotate(0.06 419.1 327.4)" font-size="3.3" text-anchor="middle" font-weight="bold" fill="#f0f0f0">-29.6</text>
<text x="434.90" y="327.39" transform="rotate(0.06 434.9 327.4)" font-size="3.3" text-anchor="middle" font-weight="bold" fill="#f0f0f0">0.8</text>
<text x="408.30" y="330.99" transform="rotate(0.06 408.3 331.0)" font-size="3.3" text-anchor="end" font-weight="bold" fill="#2030e0">Lat</text>
<text x="419.10" y="330.99" transform="rotate(0.06 419.1 331.0)" font-size="3.3" text-anchor="middle" font-weight="bold" fill="#f0f0f0">-26.7</text>
<text x="434.90" y="330.99" transform="rotate(0.06 434.9 331.0)" font-size="3.3" text-anchor="middle" font-weight="bold" fill="#f0f0f0">0.7</text>
<text x="408.30" y="334.89" transform="rotate(0.06 408.3 334.9)" font-size="3.3" text-anchor="end" font-weight="bold" fill="#b020c0">Apex</text>
<text x="419.10" y="334.89" transform="rotate(0.06 419.1 334.9)" font-size="3.3" text-anchor="middle" font-weight="bold" fill="#f0f0f0">-34.1</text>
<text x="434.90" y="334.89" transform="rotate(0.06 434.9 334.9)" font-size="3.3" text-anchor="middle" font-weight="bold" fill="#f0f0f0">0.8</text>
<text x="391.10" y="341.69" transform="rotate(0.06 391.1 341.7)" font-size="3.3" text-anchor="middle" font-weight="bold" fill="#f0f0f0">Circ</text>
<text x="408.30" y="341.69" transform="rotate(0.06 408.3 341.7)" font-size="3.3" text-anchor="end" font-weight="bold" fill="#f0f0f0">Ant</text>
<text x="419.10" y="341.69" transform="rotate(0.06 419.1 341.7)" font-size="3.3" text-anchor="middle" font-weight="bold" fill="#f0f0f0">-57.1</text>
<text x="434.90" y="341.69" transform="rotate(0.06 434.9 341.7)" font-size="3.3" text-anchor="middle" font-weight="bold" fill="#f0f0f0">0.9</text>
<text x="408.30" y="345.69" transform="rotate(0.06 408.3 345.7)" font-size="3.3" text-anchor="end" font-weight="bold" fill="#f0f0f0">Sep</text>
<text x="419.10" y="345.69" transform="rotate(0.06 419.1 345.7)" font-size="3.3" text-anchor="middle" font-weight="bold" fill="#f0f0f0">-55.4</text>
<text x="434.90" y="345.69" transform="rotate(0.06 434.9 345.7)" font-size="3.3" text-anchor="middle" font-weight="bold" fill="#f0f0f0">0.8</text>
<text x="408.30" y="349.29" transform="rotate(0.06 408.3 349.3)" font-size="3.3" text-anchor="end" font-weight="bold" fill="#f0f0f0">Inf</text>
<text x="419.10" y="349.29" transform="rotate(0.06 419.1 349.3)" font-size="3.3" text-anchor="middle" font-weight="bold" fill="#f0f0f0">-64.6</text>
<text x="434.90" y="349.29" transform="rotate(0.06 434.9 349.3)" font-size="3.3" text-anchor="middle" font-weight="bold" fill="#f0f0f0">0.8</text>
<text x="408.30" y="352.99" transform="rotate(0.06 408.3 353.0)" font-size="3.3" text-anchor="end" font-weight="bold" fill="#f0f0f0">Lat</text>
<text x="419.10" y="352.99" transform="rotate(0.06 419.1 353.0)" font-size="3.3" text-anchor="middle" font-weight="bold" fill="#f0f0f0">-63.8</text>
<text x="434.90" y="352.99" transform="rotate(0.06 434.9 353.0)" font-size="3.3" text-anchor="middle" font-weight="bold" fill="#f0f0f0">0.8</text>
<text x="408.30" y="356.59" transform="rotate(0.06 408.3 356.6)" font-size="3.3" text-anchor="end" font-weight="bold" fill="#f0f0f0">Apex</text>
<text x="419.10" y="356.59" transform="rotate(0.06 419.1 356.6)" font-size="3.3" text-anchor="middle" font-weight="bold" fill="#f0f0f0">-58.0</text>
<text x="434.90" y="356.59" transform="rotate(0.06 434.9 356.6)" font-size="3.3" text-anchor="middle" font-weight="bold" fill="#f0f0f0">1.0</text>
<text x="391.10" y="363.69" transform="rotate(0.06 391.1 363.7)" font-size="3.3" text-anchor="middle" font-weight="bold" fill="#f0f0f0">Rad</text>
<text x="408.30" y="363.69" transform="rotate(0.06 408.3 363.7)" font-size="3.3" text-anchor="end" font-weight="bold" fill="#f0f0f0">Ant</text>
<text x="419.10" y="363.69" transform="rotate(0.06 419.1 363.7)" font-size="3.3" text-anchor="middle" font-weight="bold" fill="#f0f0f0">38.3</text>
<text x="434.90" y="363.69" transform="rotate(0.06 434.9 363.7)" font-size="3.3" text-anchor="middle" font-weight="bold" fill="#f0f0f0">1.1</text>
<text x="408.30" y="367.69" transform="rotate(0.06 408.3 367.7)" font-size="3.3" text-anchor="end" font-weight="bold" fill="#f0f0f0">Sep</text>
<text x="419.10" y="367.69" transform="rotate(0.06 419.1 367.7)" font-size="3.3" text-anchor="middle" font-weight="bold" fill="#f0f0f0">38.7</text>
<text x="434.90" y="367.69" transform="rotate(0.06 434.9 367.7)" font-size="3.3" text-anchor="middle" font-weight="bold" fill="#f0f0f0">1.2</text>
<text x="408.30" y="371.29" transform="rotate(0.06 408.3 371.3)" font-size="3.3" text-anchor="end" font-weight="bold" fill="#f0f0f0">Inf</text>
<text x="419.10" y="371.29" transform="rotate(0.06 419.1 371.3)" font-size="3.3" text-anchor="middle" font-weight="bold" fill="#f0f0f0">70.1</text>
<text x="434.90" y="371.29" transform="rotate(0.06 434.9 371.3)" font-size="3.3" text-anchor="middle" font-weight="bold" fill="#f0f0f0">0.9</text>
<text x="408.30" y="374.89" transform="rotate(0.06 408.3 374.9)" font-size="3.3" text-anchor="end" font-weight="bold" fill="#f0f0f0">Lat</text>
<text x="419.10" y="374.89" transform="rotate(0.06 419.1 374.9)" font-size="3.3" text-anchor="middle" font-weight="bold" fill="#f0f0f0">60.6</text>
<text x="434.90" y="374.89" transform="rotate(0.06 434.9 374.9)" font-size="3.3" text-anchor="middle" font-weight="bold" fill="#f0f0f0">0.9</text>
<text x="408.30" y="378.49" transform="rotate(0.06 408.3 378.5)" font-size="3.3" text-anchor="end" font-weight="bold" fill="#f0f0f0">Apex</text>
<text x="419.10" y="378.49" transform="rotate(0.06 419.1 378.5)" font-size="3.3" text-anchor="middle" font-weight="bold" fill="#f0f0f0">72.3</text>
<text x="434.90" y="378.49" transform="rotate(0.06 434.9 378.5)" font-size="3.3" text-anchor="middle" font-weight="bold" fill="#f0f0f0">0.8</text>
</g>
<g id="bullseyes">
<g clip-path="url(#bc477_273)">
<circle cx="477.30" cy="273.30" r="33.10" fill="#12942e" stroke="#10206a" stroke-width="0.5"/>
<path d="M493.75,244.81 A32.9,32.9 0 0 0 460.85,244.81 L465.30,252.52 A24,24 0 0 1 489.30,252.52 Z" fill="#de0c0c" stroke="#de0c0c" stroke-width="0.3"/>
<path d="M460.85,244.81 A32.9,32.9 0 0 0 444.40,273.30 L453.30,273.30 A24,24 0 0 1 465.30,252.52 Z" fill="#de0c0c" stroke="#de0c0c" stroke-width="0.3"/>
<path d="M444.40,273.30 A32.9,32.9 0 0 0 460.85,301.79 L465.30,294.08 A24,24 0 0 1 453.30,273.30 Z" fill="#de0c0c" stroke="#de0c0c" stroke-width="0.3"/>
<path d="M460.85,301.79 A32.9,32.9 0 0 0 493.75,301.79 L489.30,294.08 A24,24 0 0 1 465.30,294.08 Z" fill="#f8f81c" stroke="#f8f81c" stroke-width="0.3"/>
<path d="M493.75,301.79 A32.9,32.9 0 0 0 510.07,276.17 L501.21,275.39 A24,24 0 0 1 489.30,294.08 Z" fill="#f8f81c" stroke="#f8f81c" stroke-width="0.3"/>
<path d="M510.07,276.17 A32.9,32.9 0 0 0 493.75,244.81 L489.30,252.52 A24,24 0 0 1 501.21,275.39 Z" fill="#de0c0c" stroke="#de0c0c" stroke-width="0.3"/>
<path d="M489.30,252.52 A24,24 0 0 0 465.30,252.52 L469.30,259.44 A16,16 0 0 1 485.30,259.44 Z" fill="#de0c0c" stroke="#de0c0c" stroke-width="0.3"/>
<path d="M465.30,252.52 A24,24 0 0 0 453.30,273.30 L461.30,273.30 A16,16 0 0 1 469.30,259.44 Z" fill="#f8f81c" stroke="#f8f81c" stroke-width="0.3"/>
<path d="M453.30,273.30 A24,24 0 0 0 465.30,294.08 L469.30,287.16 A16,16 0 0 1 461.30,273.30 Z" fill="#f8f81c" stroke="#f8f81c" stroke-width="0.3"/>
<path d="M501.21,275.39 A24,24 0 0 0 489.30,252.52 L485.30,259.44 A16,16 0 0 1 493.24,274.69 Z" fill="#f8f81c" stroke="#f8f81c" stroke-width="0.3"/>
<path d="M465.99,284.61 A16,16 0 0 0 488.61,284.61 L482.60,278.60 A7.5,7.5 0 0 1 472.00,278.60 Z" fill="#f8f81c" stroke="#f8f81c" stroke-width="0.3"/>
<path d="M488.61,284.61 A16,16 0 0 0 488.61,261.99 L482.60,268.00 A7.5,7.5 0 0 1 482.60,278.60 Z" fill="#f8f81c" stroke="#f8f81c" stroke-width="0.3"/>
<circle cx="477.30" cy="273.30" r="7.50" fill="#f8f81c"/>
<circle cx="477.30" cy="273.30" r="7.50" fill="none" stroke="#8a5a10" stroke-width="0.5" opacity="0.85"/>
<circle cx="477.30" cy="273.30" r="16.00" fill="none" stroke="#8a5a10" stroke-width="0.5" opacity="0.85"/>
<circle cx="477.30" cy="273.30" r="24.00" fill="none" stroke="#8a5a10" stroke-width="0.5" opacity="0.85"/>
<line x1="493.30" y1="273.30" x2="510.30" y2="273.30" stroke="#8a5a10" stroke-width="0.5" opacity="0.85"/>
<line x1="485.30" y1="259.44" x2="493.80" y2="244.72" stroke="#8a5a10" stroke-width="0.5" opacity="0.85"/>
<line x1="469.30" y1="259.44" x2="460.80" y2="244.72" stroke="#8a5a10" stroke-width="0.5" opacity="0.85"/>
<line x1="461.30" y1="273.30" x2="444.30" y2="273.30" stroke="#8a5a10" stroke-width="0.5" opacity="0.85"/>
<line x1="469.30" y1="287.16" x2="460.80" y2="301.88" stroke="#8a5a10" stroke-width="0.5" opacity="0.85"/>
<line x1="485.30" y1="287.16" x2="493.80" y2="301.88" stroke="#8a5a10" stroke-width="0.5" opacity="0.85"/>
<line x1="482.60" y1="268.00" x2="488.61" y2="261.99" stroke="#8a5a10" stroke-width="0.5" opacity="0.85"/>
<line x1="472.00" y1="268.00" x2="465.99" y2="261.99" stroke="#8a5a10" stroke-width="0.5" opacity="0.85"/>
<line x1="472.00" y1="278.60" x2="465.99" y2="284.61" stroke="#8a5a10" stroke-width="0.5" opacity="0.85"/>
<line x1="482.60" y1="278.60" x2="488.61" y2="284.61" stroke="#8a5a10" stroke-width="0.5" opacity="0.85"/>
</g>
<text x="477.30" y="246.69" transform="rotate(0.06 477.3 246.7)" font-size="3.85" text-anchor="middle" fill="#7a2c08" stroke="#7a2c08" stroke-width="0.1">-12.4</text>
<text x="453.05" y="260.69" transform="rotate(0.06 453.1 260.7)" font-size="3.85" text-anchor="middle" fill="#7a2c08" stroke="#7a2c08" stroke-width="0.1">-12.7</text>
<text x="453.05" y="288.69" transform="rotate(0.06 453.1 288.7)" font-size="3.85" text-anchor="middle" fill="#7a2c08" stroke="#7a2c08" stroke-width="0.1">-13.2</text>
<text x="477.30" y="302.69" transform="rotate(0.06 477.3 302.7)" font-size="3.85" text-anchor="middle" fill="#7a2c08" stroke="#7a2c08" stroke-width="0.1">-13.0</text>
<text x="501.55" y="288.69" transform="rotate(0.06 501.5 288.7)" font-size="3.85" text-anchor="middle" fill="#7a2c08" stroke="#7a2c08" stroke-width="0.1">12.9</text>
<text x="501.55" y="260.69" transform="rotate(0.06 501.5 260.7)" font-size="3.85" text-anchor="middle" fill="#7a2c08" stroke="#7a2c08" stroke-width="0.1">-12.5</text>
<text x="477.30" y="254.69" transform="rotate(0.06 477.3 254.7)" font-size="3.85" text-anchor="middle" fill="#7a2c08" stroke="#7a2c08" stroke-width="0.1">-20.2</text>
<text x="459.98" y="264.69" transform="rotate(0.06 460.0 264.7)" font-size="3.85" text-anchor="middle" fill="#7a2c08" stroke="#7a2c08" stroke-width="0.1">-22.6</text>
<text x="459.98" y="284.69" transform="rotate(0.06 460.0 284.7)" font-size="3.85" text-anchor="middle" fill="#7a2c08" stroke="#7a2c08" stroke-width="0.1">-23.4</text>
<text x="477.30" y="294.69" transform="rotate(0.06 477.3 294.7)" font-size="3.85" text-anchor="middle" fill="#7a2c08" stroke="#7a2c08" stroke-width="0.1">-25.6</text>
<text x="494.62" y="284.69" transform="rotate(0.06 494.6 284.7)" font-size="3.85" text-anchor="middle" fill="#7a2c08" stroke="#7a2c08" stroke-width="0.1">-25.5</text>
<text x="494.62" y="264.69" transform="rotate(0.06 494.6 264.7)" font-size="3.85" text-anchor="middle" fill="#7a2c08" stroke="#7a2c08" stroke-width="0.1">-23.8</text>
<text x="477.30" y="262.49" transform="rotate(0.06 477.3 262.5)" font-size="3.85" text-anchor="middle" fill="#7a2c08" stroke="#7a2c08" stroke-width="0.1">-27.9</text>
<text x="465.10" y="274.69" transform="rotate(0.06 465.1 274.7)" font-size="3.85" text-anchor="middle" fill="#7a2c08" stroke="#7a2c08" stroke-width="0.1">-25.4</text>
<text x="477.30" y="286.89" transform="rotate(0.06 477.3 286.9)" font-size="3.85" text-anchor="middle" fill="#7a2c08" stroke="#7a2c08" stroke-width="0.1">-25.9</text>
<text x="489.50" y="274.69" transform="rotate(0.06 489.5 274.7)" font-size="3.85" text-anchor="middle" fill="#7a2c08" stroke="#7a2c08" stroke-width="0.1">-25.5</text>
<text x="477.30" y="274.69" transform="rotate(0.06 477.3 274.7)" font-size="3.85" text-anchor="middle" fill="#7a2c08" stroke="#7a2c08" stroke-width="0.1">-25.6</text>
<text x="478.70" y="239.50" transform="rotate(0.06 478.7 239.5)" font-size="3.9" text-anchor="middle" font-weight="bold" fill="#f4f4f4">Longitudinal</text>
<text x="503.10" y="304.22" transform="rotate(0.06 503.1 304.2)" font-size="5.6" text-anchor="middle" fill="#e6e020">-19.8</text>
<g clip-path="url(#bc546_273)">
<circle cx="546.70" cy="273.30" r="33.10" fill="#12942e" stroke="#10206a" stroke-width="0.5"/>
<circle cx="546.70" cy="273.30" r="7.50" fill="none" stroke="#62500e" stroke-width="0.5" opacity="0.85"/>
<circle cx="546.70" cy="273.30" r="16.00" fill="none" stroke="#62500e" stroke-width="0.5" opacity="0.85"/>
<circle cx="546.70" cy="273.30" r="24.00" fill="none" stroke="#62500e" stroke-width="0.5" opacity="0.85"/>
<line x1="562.70" y1="273.30" x2="579.70" y2="273.30" stroke="#62500e" stroke-width="0.5" opacity="0.85"/>
<line x1="554.70" y1="259.44" x2="563.20" y2="244.72" stroke="#62500e" stroke-width="0.5" opacity="0.85"/>
<line x1="538.70" y1="259.44" x2="530.20" y2="244.72" stroke="#62500e" stroke-width="0.5" opacity="0.85"/>
<line x1="530.70" y1="273.30" x2="513.70" y2="273.30" stroke="#62500e" stroke-width="0.5" opacity="0.85"/>
<line x1="538.70" y1="287.16" x2="530.20" y2="301.88" stroke="#62500e" stroke-width="0.5" opacity="0.85"/>
<line x1="554.70" y1="287.16" x2="563.20" y2="301.88" stroke="#62500e" stroke-width="0.5" opacity="0.85"/>
<line x1="552.00" y1="268.00" x2="558.01" y2="261.99" stroke="#62500e" stroke-width="0.5" opacity="0.85"/>
<line x1="541.40" y1="268.00" x2="535.39" y2="261.99" stroke="#62500e" stroke-width="0.5" opacity="0.85"/>
<line x1="541.40" y1="278.60" x2="535.39" y2="284.61" stroke="#62500e" stroke-width="0.5" opacity="0.85"/>
<line x1="552.00" y1="278.60" x2="558.01" y2="284.61" stroke="#62500e" stroke-width="0.5" opacity="0.85"/>
</g>
<text x="546.70" y="246.69" transform="rotate(0.06 546.7 246.7)" font-size="3.85" text-anchor="middle" fill="#601f04" stroke="#601f04" stroke-width="0.1">-37.5</text>
<text x="522.45" y="260.69" transform="rotate(0.06 522.5 260.7)" font-size="3.85" text-anchor="middle" fill="#601f04" stroke="#601f04" stroke-width="0.1">-43.5</text>
<text x="522.45" y="288.69" transform="rotate(0.06 522.5 288.7)" font-size="3.85" text-anchor="middle" fill="#601f04" stroke="#601f04" stroke-width="0.1">-41.8</text>
<text x="546.70" y="302.69" transform="rotate(0.06 546.7 302.7)" font-size="3.85" text-anchor="middle" fill="#601f04" stroke="#601f04" stroke-width="0.1">-40.1</text>
<text x="570.95" y="288.69" transform="rotate(0.06 570.9 288.7)" font-size="3.85" text-anchor="middle" fill="#601f04" stroke="#601f04" stroke-width="0.1">-45.4</text>
<text x="570.95" y="260.69" transform="rotate(0.06 570.9 260.7)" font-size="3.85" text-anchor="middle" fill="#601f04" stroke="#601f04" stroke-width="0.1">-45.5</text>
<text x="546.70" y="254.69" transform="rotate(0.06 546.7 254.7)" font-size="3.85" text-anchor="middle" fill="#601f04" stroke="#601f04" stroke-width="0.1">-47.5</text>
<text x="529.38" y="264.69" transform="rotate(0.06 529.4 264.7)" font-size="3.85" text-anchor="middle" fill="#601f04" stroke="#601f04" stroke-width="0.1">-42.9</text>
<text x="529.38" y="284.69" transform="rotate(0.06 529.4 284.7)" font-size="3.85" text-anchor="middle" fill="#601f04" stroke="#601f04" stroke-width="0.1">-43.8</text>
<text x="546.70" y="294.69" transform="rotate(0.06 546.7 294.7)" font-size="3.85" text-anchor="middle" fill="#601f04" stroke="#601f04" stroke-width="0.1">-45.5</text>
<text x="564.02" y="284.69" transform="rotate(0.06 564.0 284.7)" font-size="3.85" text-anchor="middle" fill="#601f04" stroke="#601f04" stroke-width="0.1">-49.7</text>
<text x="564.02" y="264.69" transform="rotate(0.06 564.0 264.7)" font-size="3.85" text-anchor="middle" fill="#601f04" stroke="#601f04" stroke-width="0.1">-50.1</text>
<text x="546.70" y="262.49" transform="rotate(0.06 546.7 262.5)" font-size="3.85" text-anchor="middle" fill="#601f04" stroke="#601f04" stroke-width="0.1">-54.9</text>
<text x="534.50" y="274.69" transform="rotate(0.06 534.5 274.7)" font-size="3.85" text-anchor="middle" fill="#601f04" stroke="#601f04" stroke-width="0.1">-54.8</text>
<text x="546.70" y="286.89" transform="rotate(0.06 546.7 286.9)" font-size="3.85" text-anchor="middle" fill="#601f04" stroke="#601f04" stroke-width="0.1">-54.9</text>
<text x="558.90" y="274.69" transform="rotate(0.06 558.9 274.7)" font-size="3.85" text-anchor="middle" fill="#601f04" stroke="#601f04" stroke-width="0.1">-60.2</text>
<text x="546.70" y="274.69" transform="rotate(0.06 546.7 274.7)" font-size="3.85" text-anchor="middle" fill="#601f04" stroke="#601f04" stroke-width="0.1">-59.3</text>
<text x="548.50" y="239.50" transform="rotate(0.06 548.5 239.5)" font-size="3.9" text-anchor="middle" font-weight="bold" fill="#f4f4f4">Circumferential</text>
<text x="571.70" y="304.22" transform="rotate(0.06 571.7 304.2)" font-size="5.6" text-anchor="middle" fill="#1f9a1f">-44.9</text>
<g clip-path="url(#bc615_273)">
<circle cx="615.70" cy="273.30" r="33.10" fill="#12942e" stroke="#10206a" stroke-width="0.5"/>
<circle cx="615.70" cy="273.30" r="7.50" fill="none" stroke="#62500e" stroke-width="0.5" opacity="0.85"/>
<circle cx="615.70" cy="273.30" r="16.00" fill="none" stroke="#62500e" stroke-width="0.5" opacity="0.85"/>
<circle cx="615.70" cy="273.30" r="24.00" fill="none" stroke="#62500e" stroke-width="0.5" opacity="0.85"/>
<line x1="631.70" y1="273.30" x2="648.70" y2="273.30" stroke="#62500e" stroke-width="0.5" opacity="0.85"/>
<line x1="623.70" y1="259.44" x2="632.20" y2="244.72" stroke="#62500e" stroke-width="0.5" opacity="0.85"/>
<line x1="607.70" y1="259.44" x2="599.20" y2="244.72" stroke="#62500e" stroke-width="0.5" opacity="0.85"/>
<line x1="599.70" y1="273.30" x2="582.70" y2="273.30" stroke="#62500e" stroke-width="0.5" opacity="0.85"/>
<line x1="607.70" y1="287.16" x2="599.20" y2="301.88" stroke="#62500e" stroke-width="0.5" opacity="0.85"/>
<line x1="623.70" y1="287.16" x2="632.20" y2="301.88" stroke="#62500e" stroke-width="0.5" opacity="0.85"/>
<line x1="621.00" y1="268.00" x2="627.01" y2="261.99" stroke="#62500e" stroke-width="0.5" opacity="0.85"/>
<line x1="610.40" y1="268.00" x2="604.39" y2="261.99" stroke="#62500e" stroke-width="0.5" opacity="0.85"/>
<line x1="610.40" y1="278.60" x2="604.39" y2="284.61" stroke="#62500e" stroke-width="0.5" opacity="0.85"/>
<line x1="621.00" y1="278.60" x2="627.01" y2="284.61" stroke="#62500e" stroke-width="0.5" opacity="0.85"/>
</g>
<text x="615.70" y="246.69" transform="rotate(0.06 615.7 246.7)" font-size="3.85" text-anchor="middle" fill="#601f04" stroke="#601f04" stroke-width="0.1">42.5</text>
<text x="591.45" y="260.69" transform="rotate(0.06 591.5 260.7)" font-size="3.85" text-anchor="middle" fill="#601f04" stroke="#601f04" stroke-width="0.1">33.5</text>
<text x="591.45" y="288.69" transform="rotate(0.06 591.5 288.7)" font-size="3.85" text-anchor="middle" fill="#601f04" stroke="#601f04" stroke-width="0.1">65.2</text>
<text x="615.70" y="302.69" transform="rotate(0.06 615.7 302.7)" font-size="3.85" text-anchor="middle" fill="#601f04" stroke="#601f04" stroke-width="0.1">61.3</text>
<text x="639.95" y="288.69" transform="rotate(0.06 639.9 288.7)" font-size="3.85" text-anchor="middle" fill="#601f04" stroke="#601f04" stroke-width="0.1">56.1</text>
<text x="639.95" y="260.69" transform="rotate(0.06 639.9 260.7)" font-size="3.85" text-anchor="middle" fill="#601f04" stroke="#601f04" stroke-width="0.1">44.5</text>
<text x="615.70" y="254.69" transform="rotate(0.06 615.7 254.7)" font-size="3.85" text-anchor="middle" fill="#601f04" stroke="#601f04" stroke-width="0.1">39.5</text>
<text x="598.38" y="264.69" transform="rotate(0.06 598.4 264.7)" font-size="3.85" text-anchor="middle" fill="#601f04" stroke="#601f04" stroke-width="0.1">41.9</text>
<text x="598.38" y="284.69" transform="rotate(0.06 598.4 284.7)" font-size="3.85" text-anchor="middle" fill="#601f04" stroke="#601f04" stroke-width="0.1">55.2</text>
<text x="615.70" y="294.69" transform="rotate(0.06 615.7 294.7)" font-size="3.85" text-anchor="middle" fill="#601f04" stroke="#601f04" stroke-width="0.1">54.4</text>
<text x="633.02" y="284.69" transform="rotate(0.06 633.0 284.7)" font-size="3.85" text-anchor="middle" fill="#601f04" stroke="#601f04" stroke-width="0.1">61.7</text>
<text x="633.02" y="264.69" transform="rotate(0.06 633.0 264.7)" font-size="3.85" text-anchor="middle" fill="#601f04" stroke="#601f04" stroke-width="0.1">40.5</text>
<text x="615.70" y="262.49" transform="rotate(0.06 615.7 262.5)" font-size="3.85" text-anchor="middle" fill="#601f04" stroke="#601f04" stroke-width="0.1">41.9</text>
<text x="603.50" y="274.69" transform="rotate(0.06 603.5 274.7)" font-size="3.85" text-anchor="middle" fill="#601f04" stroke="#601f04" stroke-width="0.1">56.9</text>
<text x="615.70" y="286.89" transform="rotate(0.06 615.7 286.9)" font-size="3.85" text-anchor="middle" fill="#601f04" stroke="#601f04" stroke-width="0.1">76.5</text>
<text x="627.90" y="274.69" transform="rotate(0.06 627.9 274.7)" font-size="3.85" text-anchor="middle" fill="#601f04" stroke="#601f04" stroke-width="0.1">60.2</text>
<text x="615.70" y="274.69" transform="rotate(0.06 615.7 274.7)" font-size="3.85" text-anchor="middle" fill="#601f04" stroke="#601f04" stroke-width="0.1">50.6</text>
<text x="617.30" y="239.50" transform="rotate(0.06 617.3 239.5)" font-size="3.9" text-anchor="middle" font-weight="bold" fill="#f4f4f4">Radial</text>
<text x="641.70" y="304.22" transform="rotate(0.06 641.7 304.2)" font-size="5.6" text-anchor="middle" fill="#1f9a1f">55.2</text>
<g clip-path="url(#bc477_350)">
<circle cx="477.30" cy="350.30" r="33.10" fill="#12942e" stroke="#10206a" stroke-width="0.5"/>
<circle cx="477.30" cy="350.30" r="7.50" fill="none" stroke="#62500e" stroke-width="0.5" opacity="0.85"/>
<circle cx="477.30" cy="350.30" r="16.00" fill="none" stroke="#62500e" stroke-width="0.5" opacity="0.85"/>
<circle cx="477.30" cy="350.30" r="24.00" fill="none" stroke="#62500e" stroke-width="0.5" opacity="0.85"/>
<line x1="493.30" y1="350.30" x2="510.30" y2="350.30" stroke="#62500e" stroke-width="0.5" opacity="0.85"/>
<line x1="485.30" y1="336.44" x2="493.80" y2="321.72" stroke="#62500e" stroke-width="0.5" opacity="0.85"/>
<line x1="469.30" y1="336.44" x2="460.80" y2="321.72" stroke="#62500e" stroke-width="0.5" opacity="0.85"/>
<line x1="461.30" y1="350.30" x2="444.30" y2="350.30" stroke="#62500e" stroke-width="0.5" opacity="0.85"/>
<line x1="469.30" y1="364.16" x2="460.80" y2="378.88" stroke="#62500e" stroke-width="0.5" opacity="0.85"/>
<line x1="485.30" y1="364.16" x2="493.80" y2="378.88" stroke="#62500e" stroke-width="0.5" opacity="0.85"/>
<line x1="482.60" y1="345.00" x2="488.61" y2="338.99" stroke="#62500e" stroke-width="0.5" opacity="0.85"/>
<line x1="472.00" y1="345.00" x2="465.99" y2="338.99" stroke="#62500e" stroke-width="0.5" opacity="0.85"/>
<line x1="472.00" y1="355.60" x2="465.99" y2="361.61" stroke="#62500e" stroke-width="0.5" opacity="0.85"/>
<line x1="482.60" y1="355.60" x2="488.61" y2="361.61" stroke="#62500e" stroke-width="0.5" opacity="0.85"/>
</g>
<text x="477.30" y="323.69" transform="rotate(0.06 477.3 323.7)" font-size="3.85" text-anchor="middle" fill="#601f04" stroke="#601f04" stroke-width="0.1">-24.4</text>
<text x="453.05" y="337.69" transform="rotate(0.06 453.1 337.7)" font-size="3.85" text-anchor="middle" fill="#601f04" stroke="#601f04" stroke-width="0.1">-24.3</text>
<text x="453.05" y="365.69" transform="rotate(0.06 453.1 365.7)" font-size="3.85" text-anchor="middle" fill="#601f04" stroke="#601f04" stroke-width="0.1">-23.6</text>
<text x="477.30" y="379.69" transform="rotate(0.06 477.3 379.7)" font-size="3.85" text-anchor="middle" fill="#601f04" stroke="#601f04" stroke-width="0.1">-23.9</text>
<text x="501.55" y="365.69" transform="rotate(0.06 501.5 365.7)" font-size="3.85" text-anchor="middle" fill="#601f04" stroke="#601f04" stroke-width="0.1">-24.2</text>
<text x="501.55" y="337.69" transform="rotate(0.06 501.5 337.7)" font-size="3.85" text-anchor="middle" fill="#601f04" stroke="#601f04" stroke-width="0.1">-28.3</text>
<text x="477.30" y="331.69" transform="rotate(0.06 477.3 331.7)" font-size="3.85" text-anchor="middle" fill="#601f04" stroke="#601f04" stroke-width="0.1">-33.3</text>
<text x="459.98" y="341.69" transform="rotate(0.06 460.0 341.7)" font-size="3.85" text-anchor="middle" fill="#601f04" stroke="#601f04" stroke-width="0.1">-33.2</text>
<text x="459.98" y="361.69" transform="rotate(0.06 460.0 361.7)" font-size="3.85" text-anchor="middle" fill="#601f04" stroke="#601f04" stroke-width="0.1">-26.9</text>
<text x="477.30" y="371.69" transform="rotate(0.06 477.3 371.7)" font-size="3.85" text-anchor="middle" fill="#601f04" stroke="#601f04" stroke-width="0.1">-33.5</text>
<text x="494.62" y="361.69" transform="rotate(0.06 494.6 361.7)" font-size="3.85" text-anchor="middle" fill="#601f04" stroke="#601f04" stroke-width="0.1">-32.3</text>
<text x="494.62" y="341.69" transform="rotate(0.06 494.6 341.7)" font-size="3.85" text-anchor="middle" fill="#601f04" stroke="#601f04" stroke-width="0.1">-29.4</text>
<text x="477.30" y="339.49" transform="rotate(0.06 477.3 339.5)" font-size="3.85" text-anchor="middle" fill="#601f04" stroke="#601f04" stroke-width="0.1">-36.0</text>
<text x="465.10" y="351.69" transform="rotate(0.06 465.1 351.7)" font-size="3.85" text-anchor="middle" fill="#601f04" stroke="#601f04" stroke-width="0.1">-34.7</text>
<text x="477.30" y="363.89" transform="rotate(0.06 477.3 363.9)" font-size="3.85" text-anchor="middle" fill="#601f04" stroke="#601f04" stroke-width="0.1">-32.1</text>
<text x="489.50" y="351.69" transform="rotate(0.06 489.5 351.7)" font-size="3.85" text-anchor="middle" fill="#601f04" stroke="#601f04" stroke-width="0.1">-33.6</text>
<text x="477.30" y="351.69" transform="rotate(0.06 477.3 351.7)" font-size="3.85" text-anchor="middle" fill="#601f04" stroke="#601f04" stroke-width="0.1">-34.1</text>
<text x="478.70" y="316.90" transform="rotate(0.06 478.7 316.9)" font-size="3.9" text-anchor="middle" font-weight="bold" fill="#f4f4f4">Longitudinal</text>
<text x="502.10" y="380.82" transform="rotate(0.06 502.1 380.8)" font-size="5.6" text-anchor="middle" fill="#1f9a1f">-29.6</text>
<g clip-path="url(#bc546_350)">
<circle cx="546.70" cy="350.30" r="33.10" fill="#12942e" stroke="#10206a" stroke-width="0.5"/>
<circle cx="546.70" cy="350.30" r="7.50" fill="none" stroke="#62500e" stroke-width="0.5" opacity="0.85"/>
<circle cx="546.70" cy="350.30" r="16.00" fill="none" stroke="#62500e" stroke-width="0.5" opacity="0.85"/>
<circle cx="546.70" cy="350.30" r="24.00" fill="none" stroke="#62500e" stroke-width="0.5" opacity="0.85"/>
<line x1="562.70" y1="350.30" x2="579.70" y2="350.30" stroke="#62500e" stroke-width="0.5" opacity="0.85"/>
<line x1="554.70" y1="336.44" x2="563.20" y2="321.72" stroke="#62500e" stroke-width="0.5" opacity="0.85"/>
<line x1="538.70" y1="336.44" x2="530.20" y2="321.72" stroke="#62500e" stroke-width="0.5" opacity="0.85"/>
<line x1="530.70" y1="350.30" x2="513.70" y2="350.30" stroke="#62500e" stroke-width="0.5" opacity="0.85"/>
<line x1="538.70" y1="364.16" x2="530.20" y2="378.88" stroke="#62500e" stroke-width="0.5" opacity="0.85"/>
<line x1="554.70" y1="364.16" x2="563.20" y2="378.88" stroke="#62500e" stroke-width="0.5" opacity="0.85"/>
<line x1="552.00" y1="345.00" x2="558.01" y2="338.99" stroke="#62500e" stroke-width="0.5" opacity="0.85"/>
<line x1="541.40" y1="345.00" x2="535.39" y2="338.99" stroke="#62500e" stroke-width="0.5" opacity="0.85"/>
<line x1="541.40" y1="355.60" x2="535.39" y2="361.61" stroke="#62500e" stroke-width="0.5" opacity="0.85"/>
<line x1="552.00" y1="355.60" x2="558.01" y2="361.61" stroke="#62500e" stroke-width="0.5" opacity="0.85"/>
</g>
<text x="546.70" y="323.69" transform="rotate(0.06 546.7 323.7)" font-size="3.85" text-anchor="middle" fill="#601f04" stroke="#601f04" stroke-width="0.1">-43.1</text>
<text x="522.45" y="337.69" transform="rotate(0.06 522.5 337.7)" font-size="3.85" text-anchor="middle" fill="#601f04" stroke="#601f04" stroke-width="0.1">-45.9</text>
<text x="522.45" y="365.69" transform="rotate(0.06 522.5 365.7)" font-size="3.85" text-anchor="middle" fill="#601f04" stroke="#601f04" stroke-width="0.1">-49.1</text>
<text x="546.70" y="379.69" transform="rotate(0.06 546.7 379.7)" font-size="3.85" text-anchor="middle" fill="#601f04" stroke="#601f04" stroke-width="0.1">-54.1</text>
<text x="570.95" y="365.69" transform="rotate(0.06 570.9 365.7)" font-size="3.85" text-anchor="middle" fill="#601f04" stroke="#601f04" stroke-width="0.1">-56.7</text>
<text x="570.95" y="337.69" transform="rotate(0.06 570.9 337.7)" font-size="3.85" text-anchor="middle" fill="#601f04" stroke="#601f04" stroke-width="0.1">-53.3</text>
<text x="546.70" y="331.69" transform="rotate(0.06 546.7 331.7)" font-size="3.85" text-anchor="middle" fill="#601f04" stroke="#601f04" stroke-width="0.1">-49.0</text>
<text x="529.38" y="341.69" transform="rotate(0.06 529.4 341.7)" font-size="3.85" text-anchor="middle" fill="#601f04" stroke="#601f04" stroke-width="0.1">-46.9</text>
<text x="529.38" y="361.69" transform="rotate(0.06 529.4 361.7)" font-size="3.85" text-anchor="middle" fill="#601f04" stroke="#601f04" stroke-width="0.1">-46.7</text>
<text x="546.70" y="371.69" transform="rotate(0.06 546.7 371.7)" font-size="3.85" text-anchor="middle" fill="#601f04" stroke="#601f04" stroke-width="0.1">-50.0</text>
<text x="564.02" y="361.69" transform="rotate(0.06 564.0 361.7)" font-size="3.85" text-anchor="middle" fill="#601f04" stroke="#601f04" stroke-width="0.1">-53.5</text>
<text x="564.02" y="341.69" transform="rotate(0.06 564.0 341.7)" font-size="3.85" text-anchor="middle" fill="#601f04" stroke="#601f04" stroke-width="0.1">-51.6</text>
<text x="546.70" y="339.49" transform="rotate(0.06 546.7 339.5)" font-size="3.85" text-anchor="middle" fill="#601f04" stroke="#601f04" stroke-width="0.1">-58.1</text>
<text x="534.50" y="351.69" transform="rotate(0.06 534.5 351.7)" font-size="3.85" text-anchor="middle" fill="#601f04" stroke="#601f04" stroke-width="0.1">-55.0</text>
<text x="546.70" y="363.89" transform="rotate(0.06 546.7 363.9)" font-size="3.85" text-anchor="middle" fill="#601f04" stroke="#601f04" stroke-width="0.1">-56.1</text>
<text x="558.90" y="351.69" transform="rotate(0.06 558.9 351.7)" font-size="3.85" text-anchor="middle" fill="#601f04" stroke="#601f04" stroke-width="0.1">-63.2</text>
<text x="546.70" y="351.69" transform="rotate(0.06 546.7 351.7)" font-size="3.85" text-anchor="middle" fill="#601f04" stroke="#601f04" stroke-width="0.1">-58.0</text>
<text x="548.50" y="316.90" transform="rotate(0.06 548.5 316.9)" font-size="3.9" text-anchor="middle" font-weight="bold" fill="#f4f4f4">Circumferential</text>
<text x="571.70" y="380.82" transform="rotate(0.06 571.7 380.8)" font-size="5.6" text-anchor="middle" fill="#1f9a1f">-50.4</text>
<g clip-path="url(#bc615_350)">
<circle cx="615.70" cy="350.30" r="33.10" fill="#12942e" stroke="#10206a" stroke-width="0.5"/>
<circle cx="615.70" cy="350.30" r="7.50" fill="none" stroke="#62500e" stroke-width="0.5" opacity="0.85"/>
<circle cx="615.70" cy="350.30" r="16.00" fill="none" stroke="#62500e" stroke-width="0.5" opacity="0.85"/>
<circle cx="615.70" cy="350.30" r="24.00" fill="none" stroke="#62500e" stroke-width="0.5" opacity="0.85"/>
<line x1="631.70" y1="350.30" x2="648.70" y2="350.30" stroke="#62500e" stroke-width="0.5" opacity="0.85"/>
<line x1="623.70" y1="336.44" x2="632.20" y2="321.72" stroke="#62500e" stroke-width="0.5" opacity="0.85"/>
<line x1="607.70" y1="336.44" x2="599.20" y2="321.72" stroke="#62500e" stroke-width="0.5" opacity="0.85"/>
<line x1="599.70" y1="350.30" x2="582.70" y2="350.30" stroke="#62500e" stroke-width="0.5" opacity="0.85"/>
<line x1="607.70" y1="364.16" x2="599.20" y2="378.88" stroke="#62500e" stroke-width="0.5" opacity="0.85"/>
<line x1="623.70" y1="364.16" x2="632.20" y2="378.88" stroke="#62500e" stroke-width="0.5" opacity="0.85"/>
<line x1="621.00" y1="345.00" x2="627.01" y2="338.99" stroke="#62500e" stroke-width="0.5" opacity="0.85"/>
<line x1="610.40" y1="345.00" x2="604.39" y2="338.99" stroke="#62500e" stroke-width="0.5" opacity="0.85"/>
<line x1="610.40" y1="355.60" x2="604.39" y2="361.61" stroke="#62500e" stroke-width="0.5" opacity="0.85"/>
<line x1="621.00" y1="355.60" x2="627.01" y2="361.61" stroke="#62500e" stroke-width="0.5" opacity="0.85"/>
</g>
<text x="615.70" y="323.69" transform="rotate(0.06 615.7 323.7)" font-size="3.85" text-anchor="middle" fill="#601f04" stroke="#601f04" stroke-width="0.1">38.8</text>
<text x="591.45" y="337.69" transform="rotate(0.06 591.5 337.7)" font-size="3.85" text-anchor="middle" fill="#601f04" stroke="#601f04" stroke-width="0.1">35.3</text>
<text x="591.45" y="365.69" transform="rotate(0.06 591.5 365.7)" font-size="3.85" text-anchor="middle" fill="#601f04" stroke="#601f04" stroke-width="0.1">48.7</text>
<text x="615.70" y="379.69" transform="rotate(0.06 615.7 379.7)" font-size="3.85" text-anchor="middle" fill="#601f04" stroke="#601f04" stroke-width="0.1">58.8</text>
<text x="639.95" y="365.69" transform="rotate(0.06 639.9 365.7)" font-size="3.85" text-anchor="middle" fill="#601f04" stroke="#601f04" stroke-width="0.1">70.4</text>
<text x="639.95" y="337.69" transform="rotate(0.06 639.9 337.7)" font-size="3.85" text-anchor="middle" fill="#601f04" stroke="#601f04" stroke-width="0.1">47.4</text>
<text x="615.70" y="331.69" transform="rotate(0.06 615.7 331.7)" font-size="3.85" text-anchor="middle" fill="#601f04" stroke="#601f04" stroke-width="0.1">37.8</text>
<text x="598.38" y="341.69" transform="rotate(0.06 598.4 341.7)" font-size="3.85" text-anchor="middle" fill="#601f04" stroke="#601f04" stroke-width="0.1">44.6</text>
<text x="598.38" y="361.69" transform="rotate(0.06 598.4 361.7)" font-size="3.85" text-anchor="middle" fill="#601f04" stroke="#601f04" stroke-width="0.1">38.7</text>
<text x="615.70" y="371.69" transform="rotate(0.06 615.7 371.7)" font-size="3.85" text-anchor="middle" fill="#601f04" stroke="#601f04" stroke-width="0.1">59.8</text>
<text x="633.02" y="361.69" transform="rotate(0.06 633.0 361.7)" font-size="3.85" text-anchor="middle" fill="#601f04" stroke="#601f04" stroke-width="0.1">73.6</text>
<text x="633.02" y="341.69" transform="rotate(0.06 633.0 341.7)" font-size="3.85" text-anchor="middle" fill="#601f04" stroke="#601f04" stroke-width="0.1">48.4</text>
<text x="615.70" y="339.49" transform="rotate(0.06 615.7 339.5)" font-size="3.85" text-anchor="middle" fill="#601f04" stroke="#601f04" stroke-width="0.1">71.4</text>
<text x="603.50" y="351.69" transform="rotate(0.06 603.5 351.7)" font-size="3.85" text-anchor="middle" fill="#601f04" stroke="#601f04" stroke-width="0.1">62.8</text>
<text x="615.70" y="363.89" transform="rotate(0.06 615.7 363.9)" font-size="3.85" text-anchor="middle" fill="#601f04" stroke="#601f04" stroke-width="0.1">94.2</text>
<text x="627.90" y="351.69" transform="rotate(0.06 627.9 351.7)" font-size="3.85" text-anchor="middle" fill="#601f04" stroke="#601f04" stroke-width="0.1">61.7</text>
<text x="615.70" y="351.69" transform="rotate(0.06 615.7 351.7)" font-size="3.85" text-anchor="middle" fill="#601f04" stroke="#601f04" stroke-width="0.1">73.5</text>
<text x="617.30" y="316.90" transform="rotate(0.06 617.3 316.9)" font-size="3.9" text-anchor="middle" font-weight="bold" fill="#f4f4f4">Radial</text>
<text x="641.70" y="380.82" transform="rotate(0.06 641.7 380.8)" font-size="5.6" text-anchor="middle" fill="#1f9a1f">58.4</text>
</g>
</g>
</svg>
</body></html>
